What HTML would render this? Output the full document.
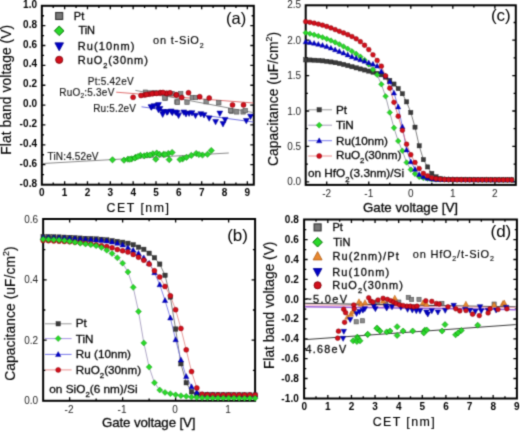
<!DOCTYPE html>
<html><head><meta charset="utf-8"><style>
html,body{margin:0;padding:0;background:#fff;}
svg{display:block;font-family:"Liberation Sans",Arial,sans-serif;}
text{stroke:#111;stroke-width:0.3px;}
text[font-weight=bold],text.n{stroke:none;}
text.m{stroke-width:0.15px;}
</style></head><body>
<svg width="520" height="432" viewBox="0 0 520 432">
<defs><filter id="soft" x="0" y="0" width="520" height="432" filterUnits="userSpaceOnUse" color-interpolation-filters="sRGB"><feConvolveMatrix order="3" kernelMatrix="1 4 1 4 16 4 1 4 1" divisor="36" edgeMode="duplicate"/></filter></defs>
<g filter="url(#soft)">
<rect width="520" height="432" fill="#fff"/>
<rect x="41.85" y="5.8" width="211.95" height="178.90" fill="none" stroke="#000" stroke-width="2"/>
<path d="M64.64 184.7v-3.5M64.64 5.8v3.5M87.48 184.7v-3.5M87.48 5.8v3.5M110.32 184.7v-3.5M110.32 5.8v3.5M133.16 184.7v-3.5M133.16 5.8v3.5M156.00 184.7v-3.5M156.00 5.8v3.5M178.84 184.7v-3.5M178.84 5.8v3.5M201.68 184.7v-3.5M201.68 5.8v3.5M224.52 184.7v-3.5M224.52 5.8v3.5M247.36 184.7v-3.5M247.36 5.8v3.5M53.22 184.7v-2.2M53.22 5.8v2.2M76.06 184.7v-2.2M76.06 5.8v2.2M98.90 184.7v-2.2M98.90 5.8v2.2M121.74 184.7v-2.2M121.74 5.8v2.2M144.58 184.7v-2.2M144.58 5.8v2.2M167.42 184.7v-2.2M167.42 5.8v2.2M190.26 184.7v-2.2M190.26 5.8v2.2M213.10 184.7v-2.2M213.10 5.8v2.2M235.94 184.7v-2.2M235.94 5.8v2.2M41.85 164.68h3.5M253.8 164.68h-3.5M41.85 144.82h3.5M253.8 144.82h-3.5M41.85 124.96h3.5M253.8 124.96h-3.5M41.85 105.10h3.5M253.8 105.10h-3.5M41.85 85.24h3.5M253.8 85.24h-3.5M41.85 65.38h3.5M253.8 65.38h-3.5M41.85 45.52h3.5M253.8 45.52h-3.5M41.85 25.66h3.5M253.8 25.66h-3.5M41.85 174.61h2.2M253.8 174.61h-2.2M41.85 154.75h2.2M253.8 154.75h-2.2M41.85 134.89h2.2M253.8 134.89h-2.2M41.85 115.03h2.2M253.8 115.03h-2.2M41.85 95.17h2.2M253.8 95.17h-2.2M41.85 75.31h2.2M253.8 75.31h-2.2M41.85 55.45h2.2M253.8 55.45h-2.2M41.85 35.59h2.2M253.8 35.59h-2.2M41.85 15.73h2.2M253.8 15.73h-2.2" stroke="#000" stroke-width="1.3" fill="none"/>
<text x="37.30" y="7.90" font-size="10" text-anchor="end" font-weight="bold" letter-spacing="0.15" fill="#000">1.0</text>
<text x="37.30" y="27.76" font-size="10" text-anchor="end" font-weight="bold" letter-spacing="0.15" fill="#000">0.8</text>
<text x="37.30" y="47.62" font-size="10" text-anchor="end" font-weight="bold" letter-spacing="0.15" fill="#000">0.6</text>
<text x="37.30" y="67.48" font-size="10" text-anchor="end" font-weight="bold" letter-spacing="0.15" fill="#000">0.4</text>
<text x="37.30" y="87.34" font-size="10" text-anchor="end" font-weight="bold" letter-spacing="0.15" fill="#000">0.2</text>
<text x="37.30" y="107.20" font-size="10" text-anchor="end" font-weight="bold" letter-spacing="0.15" fill="#000">0.0</text>
<text x="37.30" y="127.06" font-size="10" text-anchor="end" font-weight="bold" letter-spacing="0.15" fill="#000">-0.2</text>
<text x="37.30" y="146.92" font-size="10" text-anchor="end" font-weight="bold" letter-spacing="0.15" fill="#000">-0.4</text>
<text x="37.30" y="166.78" font-size="10" text-anchor="end" font-weight="bold" letter-spacing="0.15" fill="#000">-0.6</text>
<text x="37.30" y="186.64" font-size="10" text-anchor="end" font-weight="bold" letter-spacing="0.15" fill="#000">-0.8</text>
<text x="41.80" y="196.40" font-size="10" text-anchor="middle" font-weight="bold" fill="#000">0</text>
<text x="64.64" y="196.40" font-size="10" text-anchor="middle" font-weight="bold" fill="#000">1</text>
<text x="87.48" y="196.40" font-size="10" text-anchor="middle" font-weight="bold" fill="#000">2</text>
<text x="110.32" y="196.40" font-size="10" text-anchor="middle" font-weight="bold" fill="#000">3</text>
<text x="133.16" y="196.40" font-size="10" text-anchor="middle" font-weight="bold" fill="#000">4</text>
<text x="156.00" y="196.40" font-size="10" text-anchor="middle" font-weight="bold" fill="#000">5</text>
<text x="178.84" y="196.40" font-size="10" text-anchor="middle" font-weight="bold" fill="#000">6</text>
<text x="201.68" y="196.40" font-size="10" text-anchor="middle" font-weight="bold" fill="#000">7</text>
<text x="224.52" y="196.40" font-size="10" text-anchor="middle" font-weight="bold" fill="#000">8</text>
<text x="247.36" y="196.40" font-size="10" text-anchor="middle" font-weight="bold" fill="#000">9</text>
<text x="106.60" y="212.00" font-size="12.3" fill="#000" class="m" textLength="62.3" lengthAdjust="spacing">CET [nm]</text>
<text transform="translate(11.4,89.8) rotate(-90)" font-size="13.8" class="m" text-anchor="middle" textLength="130" lengthAdjust="spacing">Flat band voltage (V)</text>
<text x="236.20" y="23.50" font-size="16.5" text-anchor="middle" fill="#000" class="n">(a)</text>
<text x="153.1" y="44.4" font-size="11" class="m" textLength="50.5" lengthAdjust="spacing">on t-SiO<tspan font-size="7" dy="3.6">2</tspan></text>
<rect x="55.70" y="12.50" width="7.00" height="7.00" fill="#777" stroke="#333" stroke-width="1.1"/>
<path d="M59.20 26.00L64.00 30.80L59.20 35.60L54.40 30.80Z" fill="#2ad82a" stroke="#0a700a" stroke-width="1.0"/>
<path d="M59.20 50.81L63.50 42.86L54.90 42.86Z" fill="#0000c8" stroke="#00008a" stroke-width="0.8"/>
<circle cx="59.20" cy="59.80" r="3.60" fill="#d2101c" stroke="#7a0008" stroke-width="0.8"/>
<text x="73.80" y="19.70" font-size="11" fill="#000" textLength="10.6" lengthAdjust="spacing">Pt</text>
<text x="78.40" y="33.60" font-size="11" fill="#000" textLength="16.6" lengthAdjust="spacing">TiN</text>
<text x="77.80" y="49.60" font-size="11" fill="#000" textLength="56.6" lengthAdjust="spacing">Ru(10nm)</text>
<text x="77.8" y="63.6" font-size="11" textLength="70" lengthAdjust="spacing">RuO<tspan font-size="7.4" dy="4.2">2</tspan><tspan dy="-4.2">(30nm)</tspan></text>
<text x="87.80" y="84.50" font-size="10" fill="#1a1a1a" class="m" textLength="45.8" lengthAdjust="spacing">Pt:5.42eV</text>
<text x="59.3" y="95.5" font-size="10" fill="#1a1a1a" class="m" textLength="55" lengthAdjust="spacing">RuO<tspan font-size="6.5" dy="2.5">2</tspan><tspan dy="-2.5">:5.3eV</tspan></text>
<text x="93.20" y="112.30" font-size="10" fill="#1a1a1a" class="m" textLength="42.8" lengthAdjust="spacing">Ru:5.2eV</text>
<text x="47.60" y="159.80" font-size="10" fill="#1a1a1a" class="m" textLength="50.9" lengthAdjust="spacing">TiN:4.52eV</text>
<line x1="116.2" y1="92.2" x2="253.3" y2="103" stroke="#e07070" stroke-width="1"/>
<line x1="135.4" y1="90.4" x2="253.3" y2="112.6" stroke="#8a8a8a" stroke-width="1"/>
<line x1="141.5" y1="106.8" x2="253.3" y2="122" stroke="#7070e0" stroke-width="1"/>
<line x1="42.8" y1="163.5" x2="228.8" y2="153" stroke="#8a8a8a" stroke-width="1"/>
<rect x="143.20" y="90.00" width="4.40" height="4.40" fill="#8a8a8a" stroke="#505050" stroke-width="0.6"/>
<rect x="163.20" y="95.90" width="4.40" height="4.40" fill="#8a8a8a" stroke="#505050" stroke-width="0.6"/>
<rect x="174.70" y="99.70" width="4.40" height="4.40" fill="#8a8a8a" stroke="#505050" stroke-width="0.6"/>
<rect x="162.60" y="95.70" width="4.40" height="4.40" fill="#8a8a8a" stroke="#505050" stroke-width="0.6"/>
<rect x="166.80" y="91.50" width="4.40" height="4.40" fill="#8a8a8a" stroke="#505050" stroke-width="0.6"/>
<rect x="175.30" y="100.00" width="4.40" height="4.40" fill="#8a8a8a" stroke="#505050" stroke-width="0.6"/>
<rect x="178.50" y="91.50" width="4.40" height="4.40" fill="#8a8a8a" stroke="#505050" stroke-width="0.6"/>
<rect x="184.80" y="100.00" width="4.40" height="4.40" fill="#8a8a8a" stroke="#505050" stroke-width="0.6"/>
<rect x="190.10" y="95.30" width="4.40" height="4.40" fill="#8a8a8a" stroke="#505050" stroke-width="0.6"/>
<rect x="193.30" y="95.30" width="4.40" height="4.40" fill="#8a8a8a" stroke="#505050" stroke-width="0.6"/>
<rect x="203.90" y="99.50" width="4.40" height="4.40" fill="#8a8a8a" stroke="#505050" stroke-width="0.6"/>
<rect x="216.60" y="100.60" width="4.40" height="4.40" fill="#8a8a8a" stroke="#505050" stroke-width="0.6"/>
<rect x="229.20" y="109.10" width="4.40" height="4.40" fill="#8a8a8a" stroke="#505050" stroke-width="0.6"/>
<rect x="234.50" y="109.70" width="4.40" height="4.40" fill="#8a8a8a" stroke="#505050" stroke-width="0.6"/>
<rect x="240.90" y="109.70" width="4.40" height="4.40" fill="#8a8a8a" stroke="#505050" stroke-width="0.6"/>
<rect x="243.00" y="108.40" width="4.40" height="4.40" fill="#8a8a8a" stroke="#505050" stroke-width="0.6"/>
<rect x="147.80" y="90.80" width="4.40" height="4.40" fill="#8a8a8a" stroke="#505050" stroke-width="0.6"/>
<rect x="152.80" y="90.60" width="4.40" height="4.40" fill="#8a8a8a" stroke="#505050" stroke-width="0.6"/>
<rect x="169.80" y="91.30" width="4.40" height="4.40" fill="#8a8a8a" stroke="#505050" stroke-width="0.6"/>
<rect x="228.30" y="108.30" width="4.40" height="4.40" fill="#8a8a8a" stroke="#505050" stroke-width="0.6"/>
<circle cx="133.10" cy="97.30" r="2.50" fill="#d2101c" stroke="#7a0008" stroke-width="0.5"/>
<circle cx="144.60" cy="95.00" r="2.50" fill="#d2101c" stroke="#7a0008" stroke-width="0.5"/>
<circle cx="149.20" cy="94.20" r="2.50" fill="#d2101c" stroke="#7a0008" stroke-width="0.5"/>
<circle cx="153.10" cy="93.50" r="2.50" fill="#d2101c" stroke="#7a0008" stroke-width="0.5"/>
<circle cx="160.00" cy="92.70" r="2.50" fill="#d2101c" stroke="#7a0008" stroke-width="0.5"/>
<circle cx="166.20" cy="93.50" r="2.50" fill="#d2101c" stroke="#7a0008" stroke-width="0.5"/>
<circle cx="176.20" cy="94.70" r="2.50" fill="#d2101c" stroke="#7a0008" stroke-width="0.5"/>
<circle cx="152.10" cy="93.70" r="2.50" fill="#d2101c" stroke="#7a0008" stroke-width="0.5"/>
<circle cx="160.60" cy="92.80" r="2.50" fill="#d2101c" stroke="#7a0008" stroke-width="0.5"/>
<circle cx="166.90" cy="93.30" r="2.50" fill="#d2101c" stroke="#7a0008" stroke-width="0.5"/>
<circle cx="176.40" cy="95.00" r="2.50" fill="#d2101c" stroke="#7a0008" stroke-width="0.5"/>
<circle cx="181.70" cy="97.50" r="2.50" fill="#d2101c" stroke="#7a0008" stroke-width="0.5"/>
<circle cx="188.50" cy="92.80" r="2.50" fill="#d2101c" stroke="#7a0008" stroke-width="0.5"/>
<circle cx="199.70" cy="96.70" r="2.50" fill="#d2101c" stroke="#7a0008" stroke-width="0.5"/>
<circle cx="209.20" cy="98.10" r="2.50" fill="#d2101c" stroke="#7a0008" stroke-width="0.5"/>
<circle cx="232.50" cy="104.90" r="2.50" fill="#d2101c" stroke="#7a0008" stroke-width="0.5"/>
<circle cx="243.50" cy="104.90" r="2.50" fill="#d2101c" stroke="#7a0008" stroke-width="0.5"/>
<circle cx="141.00" cy="95.50" r="2.50" fill="#d2101c" stroke="#7a0008" stroke-width="0.5"/>
<circle cx="146.50" cy="94.50" r="2.50" fill="#d2101c" stroke="#7a0008" stroke-width="0.5"/>
<circle cx="156.50" cy="93.40" r="2.50" fill="#d2101c" stroke="#7a0008" stroke-width="0.5"/>
<circle cx="163.00" cy="92.50" r="2.50" fill="#d2101c" stroke="#7a0008" stroke-width="0.5"/>
<circle cx="170.00" cy="92.80" r="2.50" fill="#d2101c" stroke="#7a0008" stroke-width="0.5"/>
<path d="M151.50 110.34L154.40 104.98L148.60 104.98Z" fill="#0000c8" stroke="#00008a" stroke-width="0.5"/>
<path d="M157.70 108.84L160.60 103.48L154.80 103.48Z" fill="#0000c8" stroke="#00008a" stroke-width="0.5"/>
<path d="M160.00 111.84L162.90 106.48L157.10 106.48Z" fill="#0000c8" stroke="#00008a" stroke-width="0.5"/>
<path d="M163.10 114.95L166.00 109.58L160.20 109.58Z" fill="#0000c8" stroke="#00008a" stroke-width="0.5"/>
<path d="M167.70 114.95L170.60 109.58L164.80 109.58Z" fill="#0000c8" stroke="#00008a" stroke-width="0.5"/>
<path d="M172.30 115.75L175.20 110.38L169.40 110.38Z" fill="#0000c8" stroke="#00008a" stroke-width="0.5"/>
<path d="M176.90 115.75L179.80 110.38L174.00 110.38Z" fill="#0000c8" stroke="#00008a" stroke-width="0.5"/>
<path d="M151.10 110.05L154.00 104.68L148.20 104.68Z" fill="#0000c8" stroke="#00008a" stroke-width="0.5"/>
<path d="M158.50 107.95L161.40 102.58L155.60 102.58Z" fill="#0000c8" stroke="#00008a" stroke-width="0.5"/>
<path d="M158.50 112.84L161.40 107.48L155.60 107.48Z" fill="#0000c8" stroke="#00008a" stroke-width="0.5"/>
<path d="M162.70 117.45L165.60 112.08L159.80 112.08Z" fill="#0000c8" stroke="#00008a" stroke-width="0.5"/>
<path d="M166.90 115.34L169.80 109.98L164.00 109.98Z" fill="#0000c8" stroke="#00008a" stroke-width="0.5"/>
<path d="M171.20 114.34L174.10 108.98L168.30 108.98Z" fill="#0000c8" stroke="#00008a" stroke-width="0.5"/>
<path d="M175.40 115.34L178.30 109.98L172.50 109.98Z" fill="#0000c8" stroke="#00008a" stroke-width="0.5"/>
<path d="M178.60 118.55L181.50 113.18L175.70 113.18Z" fill="#0000c8" stroke="#00008a" stroke-width="0.5"/>
<path d="M183.80 115.34L186.70 109.98L180.90 109.98Z" fill="#0000c8" stroke="#00008a" stroke-width="0.5"/>
<path d="M189.10 116.45L192.00 111.08L186.20 111.08Z" fill="#0000c8" stroke="#00008a" stroke-width="0.5"/>
<path d="M195.50 118.55L198.40 113.18L192.60 113.18Z" fill="#0000c8" stroke="#00008a" stroke-width="0.5"/>
<path d="M200.80 117.05L203.70 111.68L197.90 111.68Z" fill="#0000c8" stroke="#00008a" stroke-width="0.5"/>
<path d="M209.20 121.25L212.10 115.88L206.30 115.88Z" fill="#0000c8" stroke="#00008a" stroke-width="0.5"/>
<path d="M215.60 124.84L218.50 119.48L212.70 119.48Z" fill="#0000c8" stroke="#00008a" stroke-width="0.5"/>
<path d="M219.80 116.45L222.70 111.08L216.90 111.08Z" fill="#0000c8" stroke="#00008a" stroke-width="0.5"/>
<path d="M223.00 126.95L225.90 121.58L220.10 121.58Z" fill="#0000c8" stroke="#00008a" stroke-width="0.5"/>
<path d="M225.10 122.75L228.00 117.38L222.20 117.38Z" fill="#0000c8" stroke="#00008a" stroke-width="0.5"/>
<path d="M246.30 123.84L249.20 118.48L243.40 118.48Z" fill="#0000c8" stroke="#00008a" stroke-width="0.5"/>
<path d="M250.50 119.55L253.40 114.18L247.60 114.18Z" fill="#0000c8" stroke="#00008a" stroke-width="0.5"/>
<path d="M186.00 117.05L188.90 111.68L183.10 111.68Z" fill="#0000c8" stroke="#00008a" stroke-width="0.5"/>
<path d="M192.00 116.05L194.90 110.68L189.10 110.68Z" fill="#0000c8" stroke="#00008a" stroke-width="0.5"/>
<path d="M204.00 118.05L206.90 112.68L201.10 112.68Z" fill="#0000c8" stroke="#00008a" stroke-width="0.5"/>
<path d="M154.00 109.05L156.90 103.68L151.10 103.68Z" fill="#0000c8" stroke="#00008a" stroke-width="0.5"/>
<path d="M112.50 156.70L115.60 159.80L112.50 162.90L109.40 159.80Z" fill="#2ad82a" stroke="#0b8a0b" stroke-width="0.6"/>
<path d="M124.00 157.10L127.10 160.20L124.00 163.30L120.90 160.20Z" fill="#2ad82a" stroke="#0b8a0b" stroke-width="0.6"/>
<path d="M127.90 156.10L131.00 159.20L127.90 162.30L124.80 159.20Z" fill="#2ad82a" stroke="#0b8a0b" stroke-width="0.6"/>
<path d="M131.70 155.70L134.80 158.80L131.70 161.90L128.60 158.80Z" fill="#2ad82a" stroke="#0b8a0b" stroke-width="0.6"/>
<path d="M135.60 154.20L138.70 157.30L135.60 160.40L132.50 157.30Z" fill="#2ad82a" stroke="#0b8a0b" stroke-width="0.6"/>
<path d="M140.40 152.30L143.50 155.40L140.40 158.50L137.30 155.40Z" fill="#2ad82a" stroke="#0b8a0b" stroke-width="0.6"/>
<path d="M144.20 152.70L147.30 155.80L144.20 158.90L141.10 155.80Z" fill="#2ad82a" stroke="#0b8a0b" stroke-width="0.6"/>
<path d="M147.10 151.90L150.20 155.00L147.10 158.10L144.00 155.00Z" fill="#2ad82a" stroke="#0b8a0b" stroke-width="0.6"/>
<path d="M152.90 150.70L156.00 153.80L152.90 156.90L149.80 153.80Z" fill="#2ad82a" stroke="#0b8a0b" stroke-width="0.6"/>
<path d="M156.70 150.00L159.80 153.10L156.70 156.20L153.60 153.10Z" fill="#2ad82a" stroke="#0b8a0b" stroke-width="0.6"/>
<path d="M159.60 151.30L162.70 154.40L159.60 157.50L156.50 154.40Z" fill="#2ad82a" stroke="#0b8a0b" stroke-width="0.6"/>
<path d="M155.80 156.10L158.90 159.20L155.80 162.30L152.70 159.20Z" fill="#2ad82a" stroke="#0b8a0b" stroke-width="0.6"/>
<path d="M163.50 151.30L166.60 154.40L163.50 157.50L160.40 154.40Z" fill="#2ad82a" stroke="#0b8a0b" stroke-width="0.6"/>
<path d="M168.30 150.40L171.40 153.50L168.30 156.60L165.20 153.50Z" fill="#2ad82a" stroke="#0b8a0b" stroke-width="0.6"/>
<path d="M172.10 149.40L175.20 152.50L172.10 155.60L169.00 152.50Z" fill="#2ad82a" stroke="#0b8a0b" stroke-width="0.6"/>
<path d="M169.20 156.50L172.30 159.60L169.20 162.70L166.10 159.60Z" fill="#2ad82a" stroke="#0b8a0b" stroke-width="0.6"/>
<path d="M182.70 155.70L185.80 158.80L182.70 161.90L179.60 158.80Z" fill="#2ad82a" stroke="#0b8a0b" stroke-width="0.6"/>
<path d="M186.50 154.20L189.60 157.30L186.50 160.40L183.40 157.30Z" fill="#2ad82a" stroke="#0b8a0b" stroke-width="0.6"/>
<path d="M191.30 152.30L194.40 155.40L191.30 158.50L188.20 155.40Z" fill="#2ad82a" stroke="#0b8a0b" stroke-width="0.6"/>
<path d="M196.20 150.40L199.30 153.50L196.20 156.60L193.10 153.50Z" fill="#2ad82a" stroke="#0b8a0b" stroke-width="0.6"/>
<path d="M202.50 151.90L205.60 155.00L202.50 158.10L199.40 155.00Z" fill="#2ad82a" stroke="#0b8a0b" stroke-width="0.6"/>
<path d="M207.50 151.15L210.60 154.25L207.50 157.35L204.40 154.25Z" fill="#2ad82a" stroke="#0b8a0b" stroke-width="0.6"/>
<path d="M211.25 147.40L214.35 150.50L211.25 153.60L208.15 150.50Z" fill="#2ad82a" stroke="#0b8a0b" stroke-width="0.6"/>
<path d="M130.00 156.15L133.10 159.25L130.00 162.35L126.90 159.25Z" fill="#2ad82a" stroke="#0b8a0b" stroke-width="0.6"/>
<path d="M135.00 154.90L138.10 158.00L135.00 161.10L131.90 158.00Z" fill="#2ad82a" stroke="#0b8a0b" stroke-width="0.6"/>
<path d="M150.00 151.90L153.10 155.00L150.00 158.10L146.90 155.00Z" fill="#2ad82a" stroke="#0b8a0b" stroke-width="0.6"/>
<path d="M165.00 151.40L168.10 154.50L165.00 157.60L161.90 154.50Z" fill="#2ad82a" stroke="#0b8a0b" stroke-width="0.6"/>
<path d="M180.00 156.40L183.10 159.50L180.00 162.60L176.90 159.50Z" fill="#2ad82a" stroke="#0b8a0b" stroke-width="0.6"/>
<path d="M199.00 151.40L202.10 154.50L199.00 157.60L195.90 154.50Z" fill="#2ad82a" stroke="#0b8a0b" stroke-width="0.6"/>
<path d="M138.00 153.40L141.10 156.50L138.00 159.60L134.90 156.50Z" fill="#2ad82a" stroke="#0b8a0b" stroke-width="0.6"/>
<rect x="305.7" y="5.3" width="210.10" height="179.60" fill="none" stroke="#000" stroke-width="2"/>
<path d="M326.72 184.9v-3.5M326.72 5.3v3.5M368.76 184.9v-3.5M368.76 5.3v3.5M410.80 184.9v-3.5M410.80 5.3v3.5M452.84 184.9v-3.5M452.84 5.3v3.5M494.88 184.9v-3.5M494.88 5.3v3.5M347.74 184.9v-2.2M347.74 5.3v2.2M389.78 184.9v-2.2M389.78 5.3v2.2M431.82 184.9v-2.2M431.82 5.3v2.2M473.86 184.9v-2.2M473.86 5.3v2.2M305.7 181.80h3.5M515.8 181.80h-3.5M305.7 146.40h3.5M515.8 146.40h-3.5M305.7 111.00h3.5M515.8 111.00h-3.5M305.7 75.60h3.5M515.8 75.60h-3.5M305.7 40.20h3.5M515.8 40.20h-3.5M305.7 164.10h2.2M515.8 164.10h-2.2M305.7 128.70h2.2M515.8 128.70h-2.2M305.7 93.30h2.2M515.8 93.30h-2.2M305.7 57.90h2.2M515.8 57.90h-2.2M305.7 22.50h2.2M515.8 22.50h-2.2" stroke="#000" stroke-width="1.3" fill="none"/>
<text x="301.10" y="185.30" font-size="10" text-anchor="end" fill="#1e1e1e" class="n">0.0</text>
<text x="301.10" y="149.90" font-size="10" text-anchor="end" fill="#1e1e1e" class="n">0.5</text>
<text x="301.10" y="114.50" font-size="10" text-anchor="end" fill="#1e1e1e" class="n">1.0</text>
<text x="301.10" y="79.10" font-size="10" text-anchor="end" fill="#1e1e1e" class="n">1.5</text>
<text x="301.10" y="43.70" font-size="10" text-anchor="end" fill="#1e1e1e" class="n">2.0</text>
<text x="301.10" y="8.30" font-size="10" text-anchor="end" fill="#1e1e1e" class="n">2.5</text>
<text x="326.72" y="197.40" font-size="10" text-anchor="middle" fill="#1e1e1e" class="n">-2</text>
<text x="368.76" y="197.40" font-size="10" text-anchor="middle" fill="#1e1e1e" class="n">-1</text>
<text x="410.80" y="197.40" font-size="10" text-anchor="middle" fill="#1e1e1e" class="n">0</text>
<text x="452.84" y="197.40" font-size="10" text-anchor="middle" fill="#1e1e1e" class="n">1</text>
<text x="494.88" y="197.40" font-size="10" text-anchor="middle" fill="#1e1e1e" class="n">2</text>
<text x="363.00" y="212.00" font-size="13.3" fill="#000" textLength="95" lengthAdjust="spacing">Gate voltage [V]</text>
<text transform="translate(278.2,98.9) rotate(-90)" font-size="13.8" class="m" text-anchor="middle" textLength="134" lengthAdjust="spacing">Capacitance (uF/cm<tspan font-size="8.8" dy="-6.3">2</tspan><tspan dy="6.3">)</tspan></text>
<text x="500.80" y="21.20" font-size="17" text-anchor="middle" fill="#000" class="n">(c)</text>
<polyline points="305.70,59.88 309.90,59.99 314.11,60.22 318.31,60.52 322.52,60.87 326.72,61.33 330.92,61.95 335.13,62.69 339.33,63.49 343.54,64.44 347.74,65.55 351.94,66.74 356.15,67.88 360.35,68.95 364.56,69.99 368.76,71.06 372.96,72.20 377.17,73.36 381.37,74.82 385.58,77.16 389.78,80.36 393.98,84.03 398.19,88.56 402.39,93.72 406.60,101.87 410.80,112.49 415.00,127.14 419.21,145.83 423.41,159.64 427.62,166.93 431.82,173.45 436.02,176.84 440.23,178.61 444.43,179.21 448.64,179.46 452.84,179.53 457.04,179.58 461.25,179.63 465.45,179.68 469.66,179.72 473.86,179.75 478.06,179.78 482.27,179.81 486.47,179.83 490.68,179.85 494.88,179.86 499.08,179.87 503.29,179.88 507.49,179.88 511.70,179.89" fill="none" stroke="#606060" stroke-width="0.8"/>
<polyline points="305.70,32.77 309.90,33.71 314.11,34.80 318.31,36.03 322.52,37.37 326.72,38.85 330.92,40.53 335.13,42.35 339.33,44.31 343.54,46.44 347.74,48.80 351.94,51.32 356.15,53.89 360.35,56.66 364.56,59.95 368.76,64.42 372.96,69.58 377.17,74.82 381.37,84.31 385.58,96.27 389.78,112.49 393.98,127.85 398.19,141.02 402.39,150.72 406.60,162.47 410.80,169.62 415.00,173.87 419.21,176.84 423.41,177.95 427.62,178.61 431.82,179.17 436.02,179.46 440.23,179.52 444.43,179.57 448.64,179.61 452.84,179.65 457.04,179.69 461.25,179.72 465.45,179.75 469.66,179.78 473.86,179.80 478.06,179.82 482.27,179.84 486.47,179.85 490.68,179.86 494.88,179.87 499.08,179.88 503.29,179.88 507.49,179.89 511.70,179.89" fill="none" stroke="#8a8a9a" stroke-width="0.8"/>
<polyline points="305.70,41.76 309.90,42.40 314.11,43.21 318.31,44.16 322.52,45.23 326.72,46.50 330.92,48.01 335.13,49.66 339.33,51.32 343.54,53.02 347.74,54.81 351.94,56.58 356.15,58.25 360.35,59.74 364.56,61.15 368.76,62.64 372.96,64.05 377.17,66.04 381.37,71.42 385.58,76.00 389.78,81.62 393.98,92.95 398.19,106.82 402.39,126.65 406.60,149.94 410.80,161.76 415.00,169.13 419.21,174.37 423.41,176.77 427.62,178.26 431.82,178.98 436.02,179.32 440.23,179.39 444.43,179.46 448.64,179.52 452.84,179.57 457.04,179.62 461.25,179.66 465.45,179.70 469.66,179.74 473.86,179.77 478.06,179.79 482.27,179.82 486.47,179.84 490.68,179.85 494.88,179.86 499.08,179.87 503.29,179.88 507.49,179.88 511.70,179.89" fill="none" stroke="#5a5ae0" stroke-width="0.8"/>
<polyline points="305.70,21.65 309.90,22.31 314.11,23.14 318.31,24.11 322.52,25.19 326.72,26.46 330.92,27.95 335.13,29.59 339.33,31.28 343.54,32.94 347.74,34.65 351.94,36.55 356.15,38.78 360.35,41.68 364.56,45.23 368.76,49.55 372.96,54.79 377.17,60.45 381.37,66.18 385.58,75.88 389.78,88.13 393.98,102.29 398.19,116.24 402.39,130.33 406.60,144.21 410.80,154.75 415.00,162.47 419.21,168.56 423.41,173.45 427.62,175.92 431.82,177.84 436.02,178.76 440.23,179.18 444.43,179.50 448.64,179.68 452.84,179.71 457.04,179.74 461.25,179.76 465.45,179.78 469.66,179.80 473.86,179.82 478.06,179.84 482.27,179.85 486.47,179.86 490.68,179.87 494.88,179.87 499.08,179.88 503.29,179.88 507.49,179.89 511.70,179.89" fill="none" stroke="#e07070" stroke-width="0.8"/>
<rect x="303.60" y="57.78" width="4.20" height="4.20" fill="#3a3a3a" stroke="#202020" stroke-width="0.4"/>
<rect x="307.80" y="57.89" width="4.20" height="4.20" fill="#3a3a3a" stroke="#202020" stroke-width="0.4"/>
<rect x="312.01" y="58.12" width="4.20" height="4.20" fill="#3a3a3a" stroke="#202020" stroke-width="0.4"/>
<rect x="316.21" y="58.42" width="4.20" height="4.20" fill="#3a3a3a" stroke="#202020" stroke-width="0.4"/>
<rect x="320.42" y="58.77" width="4.20" height="4.20" fill="#3a3a3a" stroke="#202020" stroke-width="0.4"/>
<rect x="324.62" y="59.23" width="4.20" height="4.20" fill="#3a3a3a" stroke="#202020" stroke-width="0.4"/>
<rect x="328.82" y="59.85" width="4.20" height="4.20" fill="#3a3a3a" stroke="#202020" stroke-width="0.4"/>
<rect x="333.03" y="60.59" width="4.20" height="4.20" fill="#3a3a3a" stroke="#202020" stroke-width="0.4"/>
<rect x="337.23" y="61.39" width="4.20" height="4.20" fill="#3a3a3a" stroke="#202020" stroke-width="0.4"/>
<rect x="341.44" y="62.34" width="4.20" height="4.20" fill="#3a3a3a" stroke="#202020" stroke-width="0.4"/>
<rect x="345.64" y="63.45" width="4.20" height="4.20" fill="#3a3a3a" stroke="#202020" stroke-width="0.4"/>
<rect x="349.84" y="64.64" width="4.20" height="4.20" fill="#3a3a3a" stroke="#202020" stroke-width="0.4"/>
<rect x="354.05" y="65.78" width="4.20" height="4.20" fill="#3a3a3a" stroke="#202020" stroke-width="0.4"/>
<rect x="358.25" y="66.85" width="4.20" height="4.20" fill="#3a3a3a" stroke="#202020" stroke-width="0.4"/>
<rect x="362.46" y="67.89" width="4.20" height="4.20" fill="#3a3a3a" stroke="#202020" stroke-width="0.4"/>
<rect x="366.66" y="68.96" width="4.20" height="4.20" fill="#3a3a3a" stroke="#202020" stroke-width="0.4"/>
<rect x="370.86" y="70.10" width="4.20" height="4.20" fill="#3a3a3a" stroke="#202020" stroke-width="0.4"/>
<rect x="375.07" y="71.26" width="4.20" height="4.20" fill="#3a3a3a" stroke="#202020" stroke-width="0.4"/>
<rect x="379.27" y="72.72" width="4.20" height="4.20" fill="#3a3a3a" stroke="#202020" stroke-width="0.4"/>
<rect x="383.48" y="75.06" width="4.20" height="4.20" fill="#3a3a3a" stroke="#202020" stroke-width="0.4"/>
<rect x="387.68" y="78.26" width="4.20" height="4.20" fill="#3a3a3a" stroke="#202020" stroke-width="0.4"/>
<rect x="391.88" y="81.93" width="4.20" height="4.20" fill="#3a3a3a" stroke="#202020" stroke-width="0.4"/>
<rect x="396.09" y="86.46" width="4.20" height="4.20" fill="#3a3a3a" stroke="#202020" stroke-width="0.4"/>
<rect x="400.29" y="91.62" width="4.20" height="4.20" fill="#3a3a3a" stroke="#202020" stroke-width="0.4"/>
<rect x="404.50" y="99.77" width="4.20" height="4.20" fill="#3a3a3a" stroke="#202020" stroke-width="0.4"/>
<rect x="408.70" y="110.39" width="4.20" height="4.20" fill="#3a3a3a" stroke="#202020" stroke-width="0.4"/>
<rect x="412.90" y="125.04" width="4.20" height="4.20" fill="#3a3a3a" stroke="#202020" stroke-width="0.4"/>
<rect x="417.11" y="143.73" width="4.20" height="4.20" fill="#3a3a3a" stroke="#202020" stroke-width="0.4"/>
<rect x="421.31" y="157.54" width="4.20" height="4.20" fill="#3a3a3a" stroke="#202020" stroke-width="0.4"/>
<rect x="425.52" y="164.83" width="4.20" height="4.20" fill="#3a3a3a" stroke="#202020" stroke-width="0.4"/>
<rect x="429.72" y="171.35" width="4.20" height="4.20" fill="#3a3a3a" stroke="#202020" stroke-width="0.4"/>
<rect x="433.92" y="174.74" width="4.20" height="4.20" fill="#3a3a3a" stroke="#202020" stroke-width="0.4"/>
<rect x="438.13" y="176.51" width="4.20" height="4.20" fill="#3a3a3a" stroke="#202020" stroke-width="0.4"/>
<rect x="442.33" y="177.11" width="4.20" height="4.20" fill="#3a3a3a" stroke="#202020" stroke-width="0.4"/>
<rect x="446.54" y="177.36" width="4.20" height="4.20" fill="#3a3a3a" stroke="#202020" stroke-width="0.4"/>
<rect x="450.74" y="177.43" width="4.20" height="4.20" fill="#3a3a3a" stroke="#202020" stroke-width="0.4"/>
<rect x="454.94" y="177.48" width="4.20" height="4.20" fill="#3a3a3a" stroke="#202020" stroke-width="0.4"/>
<rect x="459.15" y="177.53" width="4.20" height="4.20" fill="#3a3a3a" stroke="#202020" stroke-width="0.4"/>
<rect x="463.35" y="177.58" width="4.20" height="4.20" fill="#3a3a3a" stroke="#202020" stroke-width="0.4"/>
<rect x="467.56" y="177.62" width="4.20" height="4.20" fill="#3a3a3a" stroke="#202020" stroke-width="0.4"/>
<rect x="471.76" y="177.65" width="4.20" height="4.20" fill="#3a3a3a" stroke="#202020" stroke-width="0.4"/>
<rect x="475.96" y="177.68" width="4.20" height="4.20" fill="#3a3a3a" stroke="#202020" stroke-width="0.4"/>
<rect x="480.17" y="177.71" width="4.20" height="4.20" fill="#3a3a3a" stroke="#202020" stroke-width="0.4"/>
<rect x="484.37" y="177.73" width="4.20" height="4.20" fill="#3a3a3a" stroke="#202020" stroke-width="0.4"/>
<rect x="488.58" y="177.75" width="4.20" height="4.20" fill="#3a3a3a" stroke="#202020" stroke-width="0.4"/>
<rect x="492.78" y="177.76" width="4.20" height="4.20" fill="#3a3a3a" stroke="#202020" stroke-width="0.4"/>
<rect x="496.98" y="177.77" width="4.20" height="4.20" fill="#3a3a3a" stroke="#202020" stroke-width="0.4"/>
<rect x="501.19" y="177.78" width="4.20" height="4.20" fill="#3a3a3a" stroke="#202020" stroke-width="0.4"/>
<rect x="505.39" y="177.78" width="4.20" height="4.20" fill="#3a3a3a" stroke="#202020" stroke-width="0.4"/>
<rect x="509.60" y="177.79" width="4.20" height="4.20" fill="#3a3a3a" stroke="#202020" stroke-width="0.4"/>
<path d="M305.70 29.97L308.50 32.77L305.70 35.57L302.90 32.77Z" fill="#2ad82a" stroke="#0b8a0b" stroke-width="0.4"/>
<path d="M309.90 30.91L312.70 33.71L309.90 36.51L307.10 33.71Z" fill="#2ad82a" stroke="#0b8a0b" stroke-width="0.4"/>
<path d="M314.11 32.00L316.91 34.80L314.11 37.60L311.31 34.80Z" fill="#2ad82a" stroke="#0b8a0b" stroke-width="0.4"/>
<path d="M318.31 33.23L321.11 36.03L318.31 38.83L315.51 36.03Z" fill="#2ad82a" stroke="#0b8a0b" stroke-width="0.4"/>
<path d="M322.52 34.57L325.32 37.37L322.52 40.17L319.72 37.37Z" fill="#2ad82a" stroke="#0b8a0b" stroke-width="0.4"/>
<path d="M326.72 36.05L329.52 38.85L326.72 41.65L323.92 38.85Z" fill="#2ad82a" stroke="#0b8a0b" stroke-width="0.4"/>
<path d="M330.92 37.73L333.72 40.53L330.92 43.33L328.12 40.53Z" fill="#2ad82a" stroke="#0b8a0b" stroke-width="0.4"/>
<path d="M335.13 39.55L337.93 42.35L335.13 45.15L332.33 42.35Z" fill="#2ad82a" stroke="#0b8a0b" stroke-width="0.4"/>
<path d="M339.33 41.51L342.13 44.31L339.33 47.11L336.53 44.31Z" fill="#2ad82a" stroke="#0b8a0b" stroke-width="0.4"/>
<path d="M343.54 43.64L346.34 46.44L343.54 49.24L340.74 46.44Z" fill="#2ad82a" stroke="#0b8a0b" stroke-width="0.4"/>
<path d="M347.74 46.00L350.54 48.80L347.74 51.60L344.94 48.80Z" fill="#2ad82a" stroke="#0b8a0b" stroke-width="0.4"/>
<path d="M351.94 48.52L354.74 51.32L351.94 54.12L349.14 51.32Z" fill="#2ad82a" stroke="#0b8a0b" stroke-width="0.4"/>
<path d="M356.15 51.09L358.95 53.89L356.15 56.69L353.35 53.89Z" fill="#2ad82a" stroke="#0b8a0b" stroke-width="0.4"/>
<path d="M360.35 53.86L363.15 56.66L360.35 59.46L357.55 56.66Z" fill="#2ad82a" stroke="#0b8a0b" stroke-width="0.4"/>
<path d="M364.56 57.15L367.36 59.95L364.56 62.75L361.76 59.95Z" fill="#2ad82a" stroke="#0b8a0b" stroke-width="0.4"/>
<path d="M368.76 61.62L371.56 64.42L368.76 67.22L365.96 64.42Z" fill="#2ad82a" stroke="#0b8a0b" stroke-width="0.4"/>
<path d="M372.96 66.78L375.76 69.58L372.96 72.38L370.16 69.58Z" fill="#2ad82a" stroke="#0b8a0b" stroke-width="0.4"/>
<path d="M377.17 72.02L379.97 74.82L377.17 77.62L374.37 74.82Z" fill="#2ad82a" stroke="#0b8a0b" stroke-width="0.4"/>
<path d="M381.37 81.51L384.17 84.31L381.37 87.11L378.57 84.31Z" fill="#2ad82a" stroke="#0b8a0b" stroke-width="0.4"/>
<path d="M385.58 93.47L388.38 96.27L385.58 99.07L382.78 96.27Z" fill="#2ad82a" stroke="#0b8a0b" stroke-width="0.4"/>
<path d="M389.78 109.69L392.58 112.49L389.78 115.29L386.98 112.49Z" fill="#2ad82a" stroke="#0b8a0b" stroke-width="0.4"/>
<path d="M393.98 125.05L396.78 127.85L393.98 130.65L391.18 127.85Z" fill="#2ad82a" stroke="#0b8a0b" stroke-width="0.4"/>
<path d="M398.19 138.22L400.99 141.02L398.19 143.82L395.39 141.02Z" fill="#2ad82a" stroke="#0b8a0b" stroke-width="0.4"/>
<path d="M402.39 147.92L405.19 150.72L402.39 153.52L399.59 150.72Z" fill="#2ad82a" stroke="#0b8a0b" stroke-width="0.4"/>
<path d="M406.60 159.67L409.40 162.47L406.60 165.27L403.80 162.47Z" fill="#2ad82a" stroke="#0b8a0b" stroke-width="0.4"/>
<path d="M410.80 166.82L413.60 169.62L410.80 172.42L408.00 169.62Z" fill="#2ad82a" stroke="#0b8a0b" stroke-width="0.4"/>
<path d="M415.00 171.07L417.80 173.87L415.00 176.67L412.20 173.87Z" fill="#2ad82a" stroke="#0b8a0b" stroke-width="0.4"/>
<path d="M419.21 174.04L422.01 176.84L419.21 179.64L416.41 176.84Z" fill="#2ad82a" stroke="#0b8a0b" stroke-width="0.4"/>
<path d="M423.41 175.15L426.21 177.95L423.41 180.75L420.61 177.95Z" fill="#2ad82a" stroke="#0b8a0b" stroke-width="0.4"/>
<path d="M427.62 175.81L430.42 178.61L427.62 181.41L424.82 178.61Z" fill="#2ad82a" stroke="#0b8a0b" stroke-width="0.4"/>
<path d="M431.82 176.37L434.62 179.17L431.82 181.97L429.02 179.17Z" fill="#2ad82a" stroke="#0b8a0b" stroke-width="0.4"/>
<path d="M436.02 176.66L438.82 179.46L436.02 182.26L433.22 179.46Z" fill="#2ad82a" stroke="#0b8a0b" stroke-width="0.4"/>
<path d="M440.23 176.72L443.03 179.52L440.23 182.32L437.43 179.52Z" fill="#2ad82a" stroke="#0b8a0b" stroke-width="0.4"/>
<path d="M444.43 176.77L447.23 179.57L444.43 182.37L441.63 179.57Z" fill="#2ad82a" stroke="#0b8a0b" stroke-width="0.4"/>
<path d="M448.64 176.81L451.44 179.61L448.64 182.41L445.84 179.61Z" fill="#2ad82a" stroke="#0b8a0b" stroke-width="0.4"/>
<path d="M452.84 176.85L455.64 179.65L452.84 182.45L450.04 179.65Z" fill="#2ad82a" stroke="#0b8a0b" stroke-width="0.4"/>
<path d="M457.04 176.89L459.84 179.69L457.04 182.49L454.24 179.69Z" fill="#2ad82a" stroke="#0b8a0b" stroke-width="0.4"/>
<path d="M461.25 176.92L464.05 179.72L461.25 182.52L458.45 179.72Z" fill="#2ad82a" stroke="#0b8a0b" stroke-width="0.4"/>
<path d="M465.45 176.95L468.25 179.75L465.45 182.55L462.65 179.75Z" fill="#2ad82a" stroke="#0b8a0b" stroke-width="0.4"/>
<path d="M469.66 176.98L472.46 179.78L469.66 182.58L466.86 179.78Z" fill="#2ad82a" stroke="#0b8a0b" stroke-width="0.4"/>
<path d="M473.86 177.00L476.66 179.80L473.86 182.60L471.06 179.80Z" fill="#2ad82a" stroke="#0b8a0b" stroke-width="0.4"/>
<path d="M478.06 177.02L480.86 179.82L478.06 182.62L475.26 179.82Z" fill="#2ad82a" stroke="#0b8a0b" stroke-width="0.4"/>
<path d="M482.27 177.04L485.07 179.84L482.27 182.64L479.47 179.84Z" fill="#2ad82a" stroke="#0b8a0b" stroke-width="0.4"/>
<path d="M486.47 177.05L489.27 179.85L486.47 182.65L483.67 179.85Z" fill="#2ad82a" stroke="#0b8a0b" stroke-width="0.4"/>
<path d="M490.68 177.06L493.48 179.86L490.68 182.66L487.88 179.86Z" fill="#2ad82a" stroke="#0b8a0b" stroke-width="0.4"/>
<path d="M494.88 177.07L497.68 179.87L494.88 182.67L492.08 179.87Z" fill="#2ad82a" stroke="#0b8a0b" stroke-width="0.4"/>
<path d="M499.08 177.08L501.88 179.88L499.08 182.68L496.28 179.88Z" fill="#2ad82a" stroke="#0b8a0b" stroke-width="0.4"/>
<path d="M503.29 177.08L506.09 179.88L503.29 182.68L500.49 179.88Z" fill="#2ad82a" stroke="#0b8a0b" stroke-width="0.4"/>
<path d="M507.49 177.09L510.29 179.89L507.49 182.69L504.69 179.89Z" fill="#2ad82a" stroke="#0b8a0b" stroke-width="0.4"/>
<path d="M511.70 177.09L514.50 179.89L511.70 182.69L508.90 179.89Z" fill="#2ad82a" stroke="#0b8a0b" stroke-width="0.4"/>
<path d="M305.70 39.03L308.30 43.84L303.10 43.84Z" fill="#0000c8" stroke="#00008a" stroke-width="0.4"/>
<path d="M309.90 39.67L312.50 44.48L307.30 44.48Z" fill="#0000c8" stroke="#00008a" stroke-width="0.4"/>
<path d="M314.11 40.48L316.71 45.29L311.51 45.29Z" fill="#0000c8" stroke="#00008a" stroke-width="0.4"/>
<path d="M318.31 41.43L320.91 46.24L315.71 46.24Z" fill="#0000c8" stroke="#00008a" stroke-width="0.4"/>
<path d="M322.52 42.50L325.12 47.31L319.92 47.31Z" fill="#0000c8" stroke="#00008a" stroke-width="0.4"/>
<path d="M326.72 43.77L329.32 48.58L324.12 48.58Z" fill="#0000c8" stroke="#00008a" stroke-width="0.4"/>
<path d="M330.92 45.28L333.52 50.09L328.32 50.09Z" fill="#0000c8" stroke="#00008a" stroke-width="0.4"/>
<path d="M335.13 46.93L337.73 51.74L332.53 51.74Z" fill="#0000c8" stroke="#00008a" stroke-width="0.4"/>
<path d="M339.33 48.59L341.93 53.40L336.73 53.40Z" fill="#0000c8" stroke="#00008a" stroke-width="0.4"/>
<path d="M343.54 50.29L346.14 55.10L340.94 55.10Z" fill="#0000c8" stroke="#00008a" stroke-width="0.4"/>
<path d="M347.74 52.08L350.34 56.89L345.14 56.89Z" fill="#0000c8" stroke="#00008a" stroke-width="0.4"/>
<path d="M351.94 53.85L354.54 58.66L349.34 58.66Z" fill="#0000c8" stroke="#00008a" stroke-width="0.4"/>
<path d="M356.15 55.52L358.75 60.33L353.55 60.33Z" fill="#0000c8" stroke="#00008a" stroke-width="0.4"/>
<path d="M360.35 57.01L362.95 61.82L357.75 61.82Z" fill="#0000c8" stroke="#00008a" stroke-width="0.4"/>
<path d="M364.56 58.42L367.16 63.23L361.96 63.23Z" fill="#0000c8" stroke="#00008a" stroke-width="0.4"/>
<path d="M368.76 59.91L371.36 64.72L366.16 64.72Z" fill="#0000c8" stroke="#00008a" stroke-width="0.4"/>
<path d="M372.96 61.32L375.56 66.13L370.36 66.13Z" fill="#0000c8" stroke="#00008a" stroke-width="0.4"/>
<path d="M377.17 63.31L379.77 68.12L374.57 68.12Z" fill="#0000c8" stroke="#00008a" stroke-width="0.4"/>
<path d="M381.37 68.69L383.97 73.50L378.77 73.50Z" fill="#0000c8" stroke="#00008a" stroke-width="0.4"/>
<path d="M385.58 73.27L388.18 78.08L382.98 78.08Z" fill="#0000c8" stroke="#00008a" stroke-width="0.4"/>
<path d="M389.78 78.89L392.38 83.70L387.18 83.70Z" fill="#0000c8" stroke="#00008a" stroke-width="0.4"/>
<path d="M393.98 90.22L396.58 95.03L391.38 95.03Z" fill="#0000c8" stroke="#00008a" stroke-width="0.4"/>
<path d="M398.19 104.09L400.79 108.90L395.59 108.90Z" fill="#0000c8" stroke="#00008a" stroke-width="0.4"/>
<path d="M402.39 123.92L404.99 128.73L399.79 128.73Z" fill="#0000c8" stroke="#00008a" stroke-width="0.4"/>
<path d="M406.60 147.21L409.20 152.02L404.00 152.02Z" fill="#0000c8" stroke="#00008a" stroke-width="0.4"/>
<path d="M410.80 159.03L413.40 163.84L408.20 163.84Z" fill="#0000c8" stroke="#00008a" stroke-width="0.4"/>
<path d="M415.00 166.40L417.60 171.21L412.40 171.21Z" fill="#0000c8" stroke="#00008a" stroke-width="0.4"/>
<path d="M419.21 171.64L421.81 176.45L416.61 176.45Z" fill="#0000c8" stroke="#00008a" stroke-width="0.4"/>
<path d="M423.41 174.04L426.01 178.85L420.81 178.85Z" fill="#0000c8" stroke="#00008a" stroke-width="0.4"/>
<path d="M427.62 175.53L430.22 180.34L425.02 180.34Z" fill="#0000c8" stroke="#00008a" stroke-width="0.4"/>
<path d="M431.82 176.25L434.42 181.06L429.22 181.06Z" fill="#0000c8" stroke="#00008a" stroke-width="0.4"/>
<path d="M436.02 176.59L438.62 181.40L433.42 181.40Z" fill="#0000c8" stroke="#00008a" stroke-width="0.4"/>
<path d="M440.23 176.66L442.83 181.47L437.63 181.47Z" fill="#0000c8" stroke="#00008a" stroke-width="0.4"/>
<path d="M444.43 176.73L447.03 181.54L441.83 181.54Z" fill="#0000c8" stroke="#00008a" stroke-width="0.4"/>
<path d="M448.64 176.79L451.24 181.60L446.04 181.60Z" fill="#0000c8" stroke="#00008a" stroke-width="0.4"/>
<path d="M452.84 176.84L455.44 181.65L450.24 181.65Z" fill="#0000c8" stroke="#00008a" stroke-width="0.4"/>
<path d="M457.04 176.89L459.64 181.70L454.44 181.70Z" fill="#0000c8" stroke="#00008a" stroke-width="0.4"/>
<path d="M461.25 176.93L463.85 181.74L458.65 181.74Z" fill="#0000c8" stroke="#00008a" stroke-width="0.4"/>
<path d="M465.45 176.97L468.05 181.78L462.85 181.78Z" fill="#0000c8" stroke="#00008a" stroke-width="0.4"/>
<path d="M469.66 177.01L472.26 181.82L467.06 181.82Z" fill="#0000c8" stroke="#00008a" stroke-width="0.4"/>
<path d="M473.86 177.04L476.46 181.85L471.26 181.85Z" fill="#0000c8" stroke="#00008a" stroke-width="0.4"/>
<path d="M478.06 177.06L480.66 181.87L475.46 181.87Z" fill="#0000c8" stroke="#00008a" stroke-width="0.4"/>
<path d="M482.27 177.09L484.87 181.90L479.67 181.90Z" fill="#0000c8" stroke="#00008a" stroke-width="0.4"/>
<path d="M486.47 177.11L489.07 181.92L483.87 181.92Z" fill="#0000c8" stroke="#00008a" stroke-width="0.4"/>
<path d="M490.68 177.12L493.28 181.93L488.08 181.93Z" fill="#0000c8" stroke="#00008a" stroke-width="0.4"/>
<path d="M494.88 177.13L497.48 181.94L492.28 181.94Z" fill="#0000c8" stroke="#00008a" stroke-width="0.4"/>
<path d="M499.08 177.14L501.68 181.95L496.48 181.95Z" fill="#0000c8" stroke="#00008a" stroke-width="0.4"/>
<path d="M503.29 177.15L505.89 181.96L500.69 181.96Z" fill="#0000c8" stroke="#00008a" stroke-width="0.4"/>
<path d="M507.49 177.15L510.09 181.96L504.89 181.96Z" fill="#0000c8" stroke="#00008a" stroke-width="0.4"/>
<path d="M511.70 177.16L514.30 181.97L509.10 181.97Z" fill="#0000c8" stroke="#00008a" stroke-width="0.4"/>
<circle cx="305.70" cy="21.65" r="2.40" fill="#d2101c" stroke="#7a0008" stroke-width="0.4"/>
<circle cx="309.90" cy="22.31" r="2.40" fill="#d2101c" stroke="#7a0008" stroke-width="0.4"/>
<circle cx="314.11" cy="23.14" r="2.40" fill="#d2101c" stroke="#7a0008" stroke-width="0.4"/>
<circle cx="318.31" cy="24.11" r="2.40" fill="#d2101c" stroke="#7a0008" stroke-width="0.4"/>
<circle cx="322.52" cy="25.19" r="2.40" fill="#d2101c" stroke="#7a0008" stroke-width="0.4"/>
<circle cx="326.72" cy="26.46" r="2.40" fill="#d2101c" stroke="#7a0008" stroke-width="0.4"/>
<circle cx="330.92" cy="27.95" r="2.40" fill="#d2101c" stroke="#7a0008" stroke-width="0.4"/>
<circle cx="335.13" cy="29.59" r="2.40" fill="#d2101c" stroke="#7a0008" stroke-width="0.4"/>
<circle cx="339.33" cy="31.28" r="2.40" fill="#d2101c" stroke="#7a0008" stroke-width="0.4"/>
<circle cx="343.54" cy="32.94" r="2.40" fill="#d2101c" stroke="#7a0008" stroke-width="0.4"/>
<circle cx="347.74" cy="34.65" r="2.40" fill="#d2101c" stroke="#7a0008" stroke-width="0.4"/>
<circle cx="351.94" cy="36.55" r="2.40" fill="#d2101c" stroke="#7a0008" stroke-width="0.4"/>
<circle cx="356.15" cy="38.78" r="2.40" fill="#d2101c" stroke="#7a0008" stroke-width="0.4"/>
<circle cx="360.35" cy="41.68" r="2.40" fill="#d2101c" stroke="#7a0008" stroke-width="0.4"/>
<circle cx="364.56" cy="45.23" r="2.40" fill="#d2101c" stroke="#7a0008" stroke-width="0.4"/>
<circle cx="368.76" cy="49.55" r="2.40" fill="#d2101c" stroke="#7a0008" stroke-width="0.4"/>
<circle cx="372.96" cy="54.79" r="2.40" fill="#d2101c" stroke="#7a0008" stroke-width="0.4"/>
<circle cx="377.17" cy="60.45" r="2.40" fill="#d2101c" stroke="#7a0008" stroke-width="0.4"/>
<circle cx="381.37" cy="66.18" r="2.40" fill="#d2101c" stroke="#7a0008" stroke-width="0.4"/>
<circle cx="385.58" cy="75.88" r="2.40" fill="#d2101c" stroke="#7a0008" stroke-width="0.4"/>
<circle cx="389.78" cy="88.13" r="2.40" fill="#d2101c" stroke="#7a0008" stroke-width="0.4"/>
<circle cx="393.98" cy="102.29" r="2.40" fill="#d2101c" stroke="#7a0008" stroke-width="0.4"/>
<circle cx="398.19" cy="116.24" r="2.40" fill="#d2101c" stroke="#7a0008" stroke-width="0.4"/>
<circle cx="402.39" cy="130.33" r="2.40" fill="#d2101c" stroke="#7a0008" stroke-width="0.4"/>
<circle cx="406.60" cy="144.21" r="2.40" fill="#d2101c" stroke="#7a0008" stroke-width="0.4"/>
<circle cx="410.80" cy="154.75" r="2.40" fill="#d2101c" stroke="#7a0008" stroke-width="0.4"/>
<circle cx="415.00" cy="162.47" r="2.40" fill="#d2101c" stroke="#7a0008" stroke-width="0.4"/>
<circle cx="419.21" cy="168.56" r="2.40" fill="#d2101c" stroke="#7a0008" stroke-width="0.4"/>
<circle cx="423.41" cy="173.45" r="2.40" fill="#d2101c" stroke="#7a0008" stroke-width="0.4"/>
<circle cx="427.62" cy="175.92" r="2.40" fill="#d2101c" stroke="#7a0008" stroke-width="0.4"/>
<circle cx="431.82" cy="177.84" r="2.40" fill="#d2101c" stroke="#7a0008" stroke-width="0.4"/>
<circle cx="436.02" cy="178.76" r="2.40" fill="#d2101c" stroke="#7a0008" stroke-width="0.4"/>
<circle cx="440.23" cy="179.18" r="2.40" fill="#d2101c" stroke="#7a0008" stroke-width="0.4"/>
<circle cx="444.43" cy="179.50" r="2.40" fill="#d2101c" stroke="#7a0008" stroke-width="0.4"/>
<circle cx="448.64" cy="179.68" r="2.40" fill="#d2101c" stroke="#7a0008" stroke-width="0.4"/>
<circle cx="452.84" cy="179.71" r="2.40" fill="#d2101c" stroke="#7a0008" stroke-width="0.4"/>
<circle cx="457.04" cy="179.74" r="2.40" fill="#d2101c" stroke="#7a0008" stroke-width="0.4"/>
<circle cx="461.25" cy="179.76" r="2.40" fill="#d2101c" stroke="#7a0008" stroke-width="0.4"/>
<circle cx="465.45" cy="179.78" r="2.40" fill="#d2101c" stroke="#7a0008" stroke-width="0.4"/>
<circle cx="469.66" cy="179.80" r="2.40" fill="#d2101c" stroke="#7a0008" stroke-width="0.4"/>
<circle cx="473.86" cy="179.82" r="2.40" fill="#d2101c" stroke="#7a0008" stroke-width="0.4"/>
<circle cx="478.06" cy="179.84" r="2.40" fill="#d2101c" stroke="#7a0008" stroke-width="0.4"/>
<circle cx="482.27" cy="179.85" r="2.40" fill="#d2101c" stroke="#7a0008" stroke-width="0.4"/>
<circle cx="486.47" cy="179.86" r="2.40" fill="#d2101c" stroke="#7a0008" stroke-width="0.4"/>
<circle cx="490.68" cy="179.87" r="2.40" fill="#d2101c" stroke="#7a0008" stroke-width="0.4"/>
<circle cx="494.88" cy="179.87" r="2.40" fill="#d2101c" stroke="#7a0008" stroke-width="0.4"/>
<circle cx="499.08" cy="179.88" r="2.40" fill="#d2101c" stroke="#7a0008" stroke-width="0.4"/>
<circle cx="503.29" cy="179.88" r="2.40" fill="#d2101c" stroke="#7a0008" stroke-width="0.4"/>
<circle cx="507.49" cy="179.89" r="2.40" fill="#d2101c" stroke="#7a0008" stroke-width="0.4"/>
<circle cx="511.70" cy="179.89" r="2.40" fill="#d2101c" stroke="#7a0008" stroke-width="0.4"/>
<line x1="308.3" y1="109.8" x2="332" y2="109.8" stroke="#8a8a8a" stroke-width="0.9"/>
<rect x="317.00" y="107.60" width="4.40" height="4.40" fill="#3a3a3a" stroke="#202020" stroke-width="0.4"/>
<text x="336.00" y="113.60" font-size="11.7" fill="#000">Pt</text>
<line x1="308.3" y1="125.2" x2="332" y2="125.2" stroke="#9a90b0" stroke-width="0.9"/>
<path d="M319.20 122.20L322.20 125.20L319.20 128.20L316.20 125.20Z" fill="#2ad82a" stroke="#0b8a0b" stroke-width="0.4"/>
<text x="336.00" y="128.80" font-size="11.7" fill="#000">TiN</text>
<line x1="308.3" y1="140.7" x2="332" y2="140.7" stroke="#6a6ae8" stroke-width="0.9"/>
<path d="M319.20 137.86L321.90 142.86L316.50 142.86Z" fill="#0000c8" stroke="#00008a" stroke-width="0.4"/>
<text x="336.00" y="144.50" font-size="11.7" fill="#000">Ru(10nm)</text>
<line x1="308.3" y1="156" x2="332" y2="156" stroke="#e88080" stroke-width="0.9"/>
<circle cx="319.20" cy="156.00" r="2.50" fill="#d2101c" stroke="#7a0008" stroke-width="0.4"/>
<text x="336" y="158.9" font-size="11.7">RuO<tspan font-size="7.8" dy="4.3">2</tspan><tspan dy="-4.3">(30nm)</tspan></text>
<text x="307.9" y="177.2" font-size="11.8">on HfO<tspan font-size="7.8" dy="4.3">2</tspan><tspan dy="-4.3">(3.3nm)/Si</tspan></text>
<rect x="43.15" y="219.0" width="211.95" height="181.80" fill="none" stroke="#000" stroke-width="2"/>
<path d="M69.64 400.8v-3.5M69.64 219.0v3.5M122.63 400.8v-3.5M122.63 219.0v3.5M175.62 400.8v-3.5M175.62 219.0v3.5M228.62 400.8v-3.5M228.62 219.0v3.5M96.14 400.8v-2.2M96.14 219.0v2.2M149.13 400.8v-2.2M149.13 219.0v2.2M202.12 400.8v-2.2M202.12 219.0v2.2M43.15 340.20h3.5M255.1 340.20h-3.5M43.15 279.80h3.5M255.1 279.80h-3.5M43.15 370.40h2.2M255.1 370.40h-2.2M43.15 310.00h2.2M255.1 310.00h-2.2M43.15 249.60h2.2M255.1 249.60h-2.2" stroke="#000" stroke-width="1.3" fill="none"/>
<text x="38.20" y="403.90" font-size="10" text-anchor="end" fill="#1e1e1e" class="n">0.0</text>
<text x="38.20" y="343.50" font-size="10" text-anchor="end" fill="#1e1e1e" class="n">0.2</text>
<text x="38.20" y="283.10" font-size="10" text-anchor="end" fill="#1e1e1e" class="n">0.4</text>
<text x="38.20" y="222.70" font-size="10" text-anchor="end" fill="#1e1e1e" class="n">0.6</text>
<text x="69.05" y="413.30" font-size="10" text-anchor="middle" fill="#1e1e1e" class="n">-2</text>
<text x="122.03" y="413.30" font-size="10" text-anchor="middle" fill="#1e1e1e" class="n">-1</text>
<text x="175.03" y="413.30" font-size="10" text-anchor="middle" fill="#1e1e1e" class="n">0</text>
<text x="228.02" y="413.30" font-size="10" text-anchor="middle" fill="#1e1e1e" class="n">1</text>
<text x="102.00" y="427.40" font-size="13.3" fill="#000" textLength="93.5" lengthAdjust="spacing">Gate voltage [V]</text>
<text transform="translate(14.9,313.6) rotate(-90)" font-size="13.8" class="m" text-anchor="middle" textLength="134.5" lengthAdjust="spacing">Capacitance (uF/cm<tspan font-size="8.8" dy="-6.3">2</tspan><tspan dy="6.3">)</tspan></text>
<text x="237.60" y="241.20" font-size="17" text-anchor="middle" fill="#000" class="n">(b)</text>
<polyline points="43.15,236.61 48.45,236.71 53.75,236.85 59.05,237.02 64.35,237.22 69.64,237.48 74.94,237.80 80.24,238.12 85.54,238.40 90.84,238.66 96.14,238.96 101.44,239.33 106.74,239.89 112.04,240.64 117.34,241.45 122.63,242.26 127.93,243.26 133.23,244.77 138.53,247.18 143.83,249.30 149.13,253.22 154.43,257.75 159.73,264.10 165.03,275.27 170.33,297.01 175.62,329.03 180.92,363.76 186.22,382.78 191.52,391.84 196.82,394.26 202.12,394.43 207.42,394.57 212.72,394.68 218.02,394.78 223.32,394.85 228.62,394.91 233.91,394.95 239.21,394.98 244.51,395.00 249.81,395.01 255.11,395.01" fill="none" stroke="#606060" stroke-width="0.8"/>
<polyline points="43.15,237.52 48.45,237.61 53.75,237.75 59.05,237.93 64.35,238.12 69.64,238.38 74.94,238.71 80.24,239.03 85.54,239.30 90.84,239.55 96.14,239.84 101.44,240.24 106.74,240.89 112.04,241.87 117.34,243.17 122.63,244.77 127.93,247.49 133.23,250.20 138.53,253.22 143.83,257.75 149.13,263.19 154.43,272.55 159.73,284.63 165.03,300.34 170.33,317.85 175.62,339.60 180.92,359.83 186.22,376.44 191.52,386.71 196.82,392.45 202.12,394.56 207.42,394.67 212.72,394.76 218.02,394.83 223.32,394.89 228.62,394.94 233.91,394.97 239.21,394.99 244.51,395.00 249.81,395.01 255.11,395.01" fill="none" stroke="#6a6ae0" stroke-width="0.8"/>
<polyline points="43.15,240.54 48.45,240.70 53.75,240.91 59.05,241.16 64.35,241.45 69.64,241.77 74.94,242.18 80.24,242.65 85.54,243.26 90.84,244.00 96.14,244.83 101.44,245.67 106.74,246.58 112.04,247.79 117.34,249.60 122.63,250.81 127.93,252.02 133.23,254.43 138.53,257.15 143.83,260.17 149.13,264.10 154.43,270.74 159.73,277.08 165.03,286.44 170.33,295.81 175.62,309.70 180.92,328.42 186.22,349.86 191.52,371.61 196.82,387.92 202.12,394.26 207.42,394.86 212.72,394.90 218.02,394.93 223.32,394.96 228.62,394.98 233.91,394.99 239.21,395.00 244.51,395.01 249.81,395.01 255.11,395.01" fill="none" stroke="#e08080" stroke-width="0.8"/>
<polyline points="43.15,239.33 48.45,239.43 53.75,239.70 59.05,240.09 64.35,240.54 69.64,241.26 74.94,242.28 80.24,243.26 85.54,244.00 90.84,244.71 96.14,245.67 101.44,247.49 106.74,250.20 112.04,253.53 117.34,257.75 122.63,263.19 127.93,271.95 133.23,287.35 138.53,311.51 143.83,342.92 149.13,367.08 154.43,382.78 159.73,390.03 165.03,392.45 170.33,393.65 175.62,394.86 180.92,395.69 186.22,396.37 191.52,397.11 196.82,397.58 202.12,397.70 207.42,397.80 212.72,397.89 218.02,397.96 223.32,398.03 228.62,398.08 233.91,398.12 239.21,398.15 244.51,398.17 249.81,398.18 255.11,398.18" fill="none" stroke="#9a90b8" stroke-width="0.8"/>
<rect x="40.95" y="234.41" width="4.40" height="4.40" fill="#3a3a3a" stroke="#202020" stroke-width="0.4"/>
<rect x="46.25" y="234.51" width="4.40" height="4.40" fill="#3a3a3a" stroke="#202020" stroke-width="0.4"/>
<rect x="51.55" y="234.65" width="4.40" height="4.40" fill="#3a3a3a" stroke="#202020" stroke-width="0.4"/>
<rect x="56.85" y="234.82" width="4.40" height="4.40" fill="#3a3a3a" stroke="#202020" stroke-width="0.4"/>
<rect x="62.15" y="235.02" width="4.40" height="4.40" fill="#3a3a3a" stroke="#202020" stroke-width="0.4"/>
<rect x="67.44" y="235.28" width="4.40" height="4.40" fill="#3a3a3a" stroke="#202020" stroke-width="0.4"/>
<rect x="72.74" y="235.60" width="4.40" height="4.40" fill="#3a3a3a" stroke="#202020" stroke-width="0.4"/>
<rect x="78.04" y="235.92" width="4.40" height="4.40" fill="#3a3a3a" stroke="#202020" stroke-width="0.4"/>
<rect x="83.34" y="236.20" width="4.40" height="4.40" fill="#3a3a3a" stroke="#202020" stroke-width="0.4"/>
<rect x="88.64" y="236.46" width="4.40" height="4.40" fill="#3a3a3a" stroke="#202020" stroke-width="0.4"/>
<rect x="93.94" y="236.76" width="4.40" height="4.40" fill="#3a3a3a" stroke="#202020" stroke-width="0.4"/>
<rect x="99.24" y="237.13" width="4.40" height="4.40" fill="#3a3a3a" stroke="#202020" stroke-width="0.4"/>
<rect x="104.54" y="237.69" width="4.40" height="4.40" fill="#3a3a3a" stroke="#202020" stroke-width="0.4"/>
<rect x="109.84" y="238.44" width="4.40" height="4.40" fill="#3a3a3a" stroke="#202020" stroke-width="0.4"/>
<rect x="115.14" y="239.25" width="4.40" height="4.40" fill="#3a3a3a" stroke="#202020" stroke-width="0.4"/>
<rect x="120.43" y="240.06" width="4.40" height="4.40" fill="#3a3a3a" stroke="#202020" stroke-width="0.4"/>
<rect x="125.73" y="241.06" width="4.40" height="4.40" fill="#3a3a3a" stroke="#202020" stroke-width="0.4"/>
<rect x="131.03" y="242.57" width="4.40" height="4.40" fill="#3a3a3a" stroke="#202020" stroke-width="0.4"/>
<rect x="136.33" y="244.98" width="4.40" height="4.40" fill="#3a3a3a" stroke="#202020" stroke-width="0.4"/>
<rect x="141.63" y="247.10" width="4.40" height="4.40" fill="#3a3a3a" stroke="#202020" stroke-width="0.4"/>
<rect x="146.93" y="251.02" width="4.40" height="4.40" fill="#3a3a3a" stroke="#202020" stroke-width="0.4"/>
<rect x="152.23" y="255.55" width="4.40" height="4.40" fill="#3a3a3a" stroke="#202020" stroke-width="0.4"/>
<rect x="157.53" y="261.90" width="4.40" height="4.40" fill="#3a3a3a" stroke="#202020" stroke-width="0.4"/>
<rect x="162.83" y="273.07" width="4.40" height="4.40" fill="#3a3a3a" stroke="#202020" stroke-width="0.4"/>
<rect x="168.13" y="294.81" width="4.40" height="4.40" fill="#3a3a3a" stroke="#202020" stroke-width="0.4"/>
<rect x="173.43" y="326.83" width="4.40" height="4.40" fill="#3a3a3a" stroke="#202020" stroke-width="0.4"/>
<rect x="178.72" y="361.56" width="4.40" height="4.40" fill="#3a3a3a" stroke="#202020" stroke-width="0.4"/>
<rect x="184.02" y="380.58" width="4.40" height="4.40" fill="#3a3a3a" stroke="#202020" stroke-width="0.4"/>
<rect x="189.32" y="389.64" width="4.40" height="4.40" fill="#3a3a3a" stroke="#202020" stroke-width="0.4"/>
<rect x="194.62" y="392.06" width="4.40" height="4.40" fill="#3a3a3a" stroke="#202020" stroke-width="0.4"/>
<rect x="199.92" y="392.23" width="4.40" height="4.40" fill="#3a3a3a" stroke="#202020" stroke-width="0.4"/>
<rect x="205.22" y="392.37" width="4.40" height="4.40" fill="#3a3a3a" stroke="#202020" stroke-width="0.4"/>
<rect x="210.52" y="392.48" width="4.40" height="4.40" fill="#3a3a3a" stroke="#202020" stroke-width="0.4"/>
<rect x="215.82" y="392.58" width="4.40" height="4.40" fill="#3a3a3a" stroke="#202020" stroke-width="0.4"/>
<rect x="221.12" y="392.65" width="4.40" height="4.40" fill="#3a3a3a" stroke="#202020" stroke-width="0.4"/>
<rect x="226.42" y="392.71" width="4.40" height="4.40" fill="#3a3a3a" stroke="#202020" stroke-width="0.4"/>
<rect x="231.71" y="392.75" width="4.40" height="4.40" fill="#3a3a3a" stroke="#202020" stroke-width="0.4"/>
<rect x="237.01" y="392.78" width="4.40" height="4.40" fill="#3a3a3a" stroke="#202020" stroke-width="0.4"/>
<rect x="242.31" y="392.80" width="4.40" height="4.40" fill="#3a3a3a" stroke="#202020" stroke-width="0.4"/>
<rect x="247.61" y="392.81" width="4.40" height="4.40" fill="#3a3a3a" stroke="#202020" stroke-width="0.4"/>
<rect x="252.91" y="392.81" width="4.40" height="4.40" fill="#3a3a3a" stroke="#202020" stroke-width="0.4"/>
<path d="M43.15 234.69L45.85 239.68L40.45 239.68Z" fill="#0000c8" stroke="#00008a" stroke-width="0.4"/>
<path d="M48.45 234.78L51.15 239.77L45.75 239.77Z" fill="#0000c8" stroke="#00008a" stroke-width="0.4"/>
<path d="M53.75 234.92L56.45 239.91L51.05 239.91Z" fill="#0000c8" stroke="#00008a" stroke-width="0.4"/>
<path d="M59.05 235.09L61.75 240.09L56.35 240.09Z" fill="#0000c8" stroke="#00008a" stroke-width="0.4"/>
<path d="M64.35 235.29L67.05 240.28L61.65 240.28Z" fill="#0000c8" stroke="#00008a" stroke-width="0.4"/>
<path d="M69.64 235.55L72.34 240.54L66.94 240.54Z" fill="#0000c8" stroke="#00008a" stroke-width="0.4"/>
<path d="M74.94 235.87L77.64 240.87L72.24 240.87Z" fill="#0000c8" stroke="#00008a" stroke-width="0.4"/>
<path d="M80.24 236.19L82.94 241.19L77.54 241.19Z" fill="#0000c8" stroke="#00008a" stroke-width="0.4"/>
<path d="M85.54 236.46L88.24 241.46L82.84 241.46Z" fill="#0000c8" stroke="#00008a" stroke-width="0.4"/>
<path d="M90.84 236.71L93.54 241.71L88.14 241.71Z" fill="#0000c8" stroke="#00008a" stroke-width="0.4"/>
<path d="M96.14 237.00L98.84 242.00L93.44 242.00Z" fill="#0000c8" stroke="#00008a" stroke-width="0.4"/>
<path d="M101.44 237.40L104.14 242.40L98.74 242.40Z" fill="#0000c8" stroke="#00008a" stroke-width="0.4"/>
<path d="M106.74 238.05L109.44 243.05L104.04 243.05Z" fill="#0000c8" stroke="#00008a" stroke-width="0.4"/>
<path d="M112.04 239.04L114.74 244.03L109.34 244.03Z" fill="#0000c8" stroke="#00008a" stroke-width="0.4"/>
<path d="M117.34 240.33L120.04 245.33L114.64 245.33Z" fill="#0000c8" stroke="#00008a" stroke-width="0.4"/>
<path d="M122.63 241.93L125.33 246.93L119.93 246.93Z" fill="#0000c8" stroke="#00008a" stroke-width="0.4"/>
<path d="M127.93 244.65L130.63 249.65L125.23 249.65Z" fill="#0000c8" stroke="#00008a" stroke-width="0.4"/>
<path d="M133.23 247.37L135.93 252.36L130.53 252.36Z" fill="#0000c8" stroke="#00008a" stroke-width="0.4"/>
<path d="M138.53 250.39L141.23 255.38L135.83 255.38Z" fill="#0000c8" stroke="#00008a" stroke-width="0.4"/>
<path d="M143.83 254.92L146.53 259.91L141.13 259.91Z" fill="#0000c8" stroke="#00008a" stroke-width="0.4"/>
<path d="M149.13 260.36L151.83 265.35L146.43 265.35Z" fill="#0000c8" stroke="#00008a" stroke-width="0.4"/>
<path d="M154.43 269.72L157.13 274.71L151.73 274.71Z" fill="#0000c8" stroke="#00008a" stroke-width="0.4"/>
<path d="M159.73 281.80L162.43 286.79L157.03 286.79Z" fill="#0000c8" stroke="#00008a" stroke-width="0.4"/>
<path d="M165.03 297.50L167.73 302.50L162.33 302.50Z" fill="#0000c8" stroke="#00008a" stroke-width="0.4"/>
<path d="M170.33 315.02L173.03 320.01L167.63 320.01Z" fill="#0000c8" stroke="#00008a" stroke-width="0.4"/>
<path d="M175.62 336.76L178.32 341.76L172.93 341.76Z" fill="#0000c8" stroke="#00008a" stroke-width="0.4"/>
<path d="M180.92 357.00L183.62 361.99L178.22 361.99Z" fill="#0000c8" stroke="#00008a" stroke-width="0.4"/>
<path d="M186.22 373.61L188.92 378.60L183.52 378.60Z" fill="#0000c8" stroke="#00008a" stroke-width="0.4"/>
<path d="M191.52 383.87L194.22 388.87L188.82 388.87Z" fill="#0000c8" stroke="#00008a" stroke-width="0.4"/>
<path d="M196.82 389.61L199.52 394.61L194.12 394.61Z" fill="#0000c8" stroke="#00008a" stroke-width="0.4"/>
<path d="M202.12 391.73L204.82 396.72L199.42 396.72Z" fill="#0000c8" stroke="#00008a" stroke-width="0.4"/>
<path d="M207.42 391.83L210.12 396.83L204.72 396.83Z" fill="#0000c8" stroke="#00008a" stroke-width="0.4"/>
<path d="M212.72 391.93L215.42 396.92L210.02 396.92Z" fill="#0000c8" stroke="#00008a" stroke-width="0.4"/>
<path d="M218.02 392.00L220.72 396.99L215.32 396.99Z" fill="#0000c8" stroke="#00008a" stroke-width="0.4"/>
<path d="M223.32 392.06L226.02 397.05L220.62 397.05Z" fill="#0000c8" stroke="#00008a" stroke-width="0.4"/>
<path d="M228.62 392.10L231.31 397.10L225.92 397.10Z" fill="#0000c8" stroke="#00008a" stroke-width="0.4"/>
<path d="M233.91 392.13L236.61 397.13L231.21 397.13Z" fill="#0000c8" stroke="#00008a" stroke-width="0.4"/>
<path d="M239.21 392.16L241.91 397.15L236.51 397.15Z" fill="#0000c8" stroke="#00008a" stroke-width="0.4"/>
<path d="M244.51 392.17L247.21 397.16L241.81 397.16Z" fill="#0000c8" stroke="#00008a" stroke-width="0.4"/>
<path d="M249.81 392.18L252.51 397.17L247.11 397.17Z" fill="#0000c8" stroke="#00008a" stroke-width="0.4"/>
<path d="M255.11 392.18L257.81 397.17L252.41 397.17Z" fill="#0000c8" stroke="#00008a" stroke-width="0.4"/>
<circle cx="43.15" cy="240.54" r="2.50" fill="#d2101c" stroke="#7a0008" stroke-width="0.4"/>
<circle cx="48.45" cy="240.70" r="2.50" fill="#d2101c" stroke="#7a0008" stroke-width="0.4"/>
<circle cx="53.75" cy="240.91" r="2.50" fill="#d2101c" stroke="#7a0008" stroke-width="0.4"/>
<circle cx="59.05" cy="241.16" r="2.50" fill="#d2101c" stroke="#7a0008" stroke-width="0.4"/>
<circle cx="64.35" cy="241.45" r="2.50" fill="#d2101c" stroke="#7a0008" stroke-width="0.4"/>
<circle cx="69.64" cy="241.77" r="2.50" fill="#d2101c" stroke="#7a0008" stroke-width="0.4"/>
<circle cx="74.94" cy="242.18" r="2.50" fill="#d2101c" stroke="#7a0008" stroke-width="0.4"/>
<circle cx="80.24" cy="242.65" r="2.50" fill="#d2101c" stroke="#7a0008" stroke-width="0.4"/>
<circle cx="85.54" cy="243.26" r="2.50" fill="#d2101c" stroke="#7a0008" stroke-width="0.4"/>
<circle cx="90.84" cy="244.00" r="2.50" fill="#d2101c" stroke="#7a0008" stroke-width="0.4"/>
<circle cx="96.14" cy="244.83" r="2.50" fill="#d2101c" stroke="#7a0008" stroke-width="0.4"/>
<circle cx="101.44" cy="245.67" r="2.50" fill="#d2101c" stroke="#7a0008" stroke-width="0.4"/>
<circle cx="106.74" cy="246.58" r="2.50" fill="#d2101c" stroke="#7a0008" stroke-width="0.4"/>
<circle cx="112.04" cy="247.79" r="2.50" fill="#d2101c" stroke="#7a0008" stroke-width="0.4"/>
<circle cx="117.34" cy="249.60" r="2.50" fill="#d2101c" stroke="#7a0008" stroke-width="0.4"/>
<circle cx="122.63" cy="250.81" r="2.50" fill="#d2101c" stroke="#7a0008" stroke-width="0.4"/>
<circle cx="127.93" cy="252.02" r="2.50" fill="#d2101c" stroke="#7a0008" stroke-width="0.4"/>
<circle cx="133.23" cy="254.43" r="2.50" fill="#d2101c" stroke="#7a0008" stroke-width="0.4"/>
<circle cx="138.53" cy="257.15" r="2.50" fill="#d2101c" stroke="#7a0008" stroke-width="0.4"/>
<circle cx="143.83" cy="260.17" r="2.50" fill="#d2101c" stroke="#7a0008" stroke-width="0.4"/>
<circle cx="149.13" cy="264.10" r="2.50" fill="#d2101c" stroke="#7a0008" stroke-width="0.4"/>
<circle cx="154.43" cy="270.74" r="2.50" fill="#d2101c" stroke="#7a0008" stroke-width="0.4"/>
<circle cx="159.73" cy="277.08" r="2.50" fill="#d2101c" stroke="#7a0008" stroke-width="0.4"/>
<circle cx="165.03" cy="286.44" r="2.50" fill="#d2101c" stroke="#7a0008" stroke-width="0.4"/>
<circle cx="170.33" cy="295.81" r="2.50" fill="#d2101c" stroke="#7a0008" stroke-width="0.4"/>
<circle cx="175.62" cy="309.70" r="2.50" fill="#d2101c" stroke="#7a0008" stroke-width="0.4"/>
<circle cx="180.92" cy="328.42" r="2.50" fill="#d2101c" stroke="#7a0008" stroke-width="0.4"/>
<circle cx="186.22" cy="349.86" r="2.50" fill="#d2101c" stroke="#7a0008" stroke-width="0.4"/>
<circle cx="191.52" cy="371.61" r="2.50" fill="#d2101c" stroke="#7a0008" stroke-width="0.4"/>
<circle cx="196.82" cy="387.92" r="2.50" fill="#d2101c" stroke="#7a0008" stroke-width="0.4"/>
<circle cx="202.12" cy="394.26" r="2.50" fill="#d2101c" stroke="#7a0008" stroke-width="0.4"/>
<circle cx="207.42" cy="394.86" r="2.50" fill="#d2101c" stroke="#7a0008" stroke-width="0.4"/>
<circle cx="212.72" cy="394.90" r="2.50" fill="#d2101c" stroke="#7a0008" stroke-width="0.4"/>
<circle cx="218.02" cy="394.93" r="2.50" fill="#d2101c" stroke="#7a0008" stroke-width="0.4"/>
<circle cx="223.32" cy="394.96" r="2.50" fill="#d2101c" stroke="#7a0008" stroke-width="0.4"/>
<circle cx="228.62" cy="394.98" r="2.50" fill="#d2101c" stroke="#7a0008" stroke-width="0.4"/>
<circle cx="233.91" cy="394.99" r="2.50" fill="#d2101c" stroke="#7a0008" stroke-width="0.4"/>
<circle cx="239.21" cy="395.00" r="2.50" fill="#d2101c" stroke="#7a0008" stroke-width="0.4"/>
<circle cx="244.51" cy="395.01" r="2.50" fill="#d2101c" stroke="#7a0008" stroke-width="0.4"/>
<circle cx="249.81" cy="395.01" r="2.50" fill="#d2101c" stroke="#7a0008" stroke-width="0.4"/>
<circle cx="255.11" cy="395.01" r="2.50" fill="#d2101c" stroke="#7a0008" stroke-width="0.4"/>
<path d="M43.15 236.33L46.15 239.33L43.15 242.33L40.15 239.33Z" fill="#2ad82a" stroke="#0b8a0b" stroke-width="0.4"/>
<path d="M48.45 236.43L51.45 239.43L48.45 242.43L45.45 239.43Z" fill="#2ad82a" stroke="#0b8a0b" stroke-width="0.4"/>
<path d="M53.75 236.70L56.75 239.70L53.75 242.70L50.75 239.70Z" fill="#2ad82a" stroke="#0b8a0b" stroke-width="0.4"/>
<path d="M59.05 237.09L62.05 240.09L59.05 243.09L56.05 240.09Z" fill="#2ad82a" stroke="#0b8a0b" stroke-width="0.4"/>
<path d="M64.35 237.54L67.35 240.54L64.35 243.54L61.35 240.54Z" fill="#2ad82a" stroke="#0b8a0b" stroke-width="0.4"/>
<path d="M69.64 238.26L72.64 241.26L69.64 244.26L66.64 241.26Z" fill="#2ad82a" stroke="#0b8a0b" stroke-width="0.4"/>
<path d="M74.94 239.28L77.94 242.28L74.94 245.28L71.94 242.28Z" fill="#2ad82a" stroke="#0b8a0b" stroke-width="0.4"/>
<path d="M80.24 240.26L83.24 243.26L80.24 246.26L77.24 243.26Z" fill="#2ad82a" stroke="#0b8a0b" stroke-width="0.4"/>
<path d="M85.54 241.00L88.54 244.00L85.54 247.00L82.54 244.00Z" fill="#2ad82a" stroke="#0b8a0b" stroke-width="0.4"/>
<path d="M90.84 241.71L93.84 244.71L90.84 247.71L87.84 244.71Z" fill="#2ad82a" stroke="#0b8a0b" stroke-width="0.4"/>
<path d="M96.14 242.67L99.14 245.67L96.14 248.67L93.14 245.67Z" fill="#2ad82a" stroke="#0b8a0b" stroke-width="0.4"/>
<path d="M101.44 244.49L104.44 247.49L101.44 250.49L98.44 247.49Z" fill="#2ad82a" stroke="#0b8a0b" stroke-width="0.4"/>
<path d="M106.74 247.20L109.74 250.20L106.74 253.20L103.74 250.20Z" fill="#2ad82a" stroke="#0b8a0b" stroke-width="0.4"/>
<path d="M112.04 250.53L115.04 253.53L112.04 256.53L109.04 253.53Z" fill="#2ad82a" stroke="#0b8a0b" stroke-width="0.4"/>
<path d="M117.34 254.75L120.34 257.75L117.34 260.75L114.34 257.75Z" fill="#2ad82a" stroke="#0b8a0b" stroke-width="0.4"/>
<path d="M122.63 260.19L125.63 263.19L122.63 266.19L119.63 263.19Z" fill="#2ad82a" stroke="#0b8a0b" stroke-width="0.4"/>
<path d="M127.93 268.95L130.93 271.95L127.93 274.95L124.93 271.95Z" fill="#2ad82a" stroke="#0b8a0b" stroke-width="0.4"/>
<path d="M133.23 284.35L136.23 287.35L133.23 290.35L130.23 287.35Z" fill="#2ad82a" stroke="#0b8a0b" stroke-width="0.4"/>
<path d="M138.53 308.51L141.53 311.51L138.53 314.51L135.53 311.51Z" fill="#2ad82a" stroke="#0b8a0b" stroke-width="0.4"/>
<path d="M143.83 339.92L146.83 342.92L143.83 345.92L140.83 342.92Z" fill="#2ad82a" stroke="#0b8a0b" stroke-width="0.4"/>
<path d="M149.13 364.08L152.13 367.08L149.13 370.08L146.13 367.08Z" fill="#2ad82a" stroke="#0b8a0b" stroke-width="0.4"/>
<path d="M154.43 379.78L157.43 382.78L154.43 385.78L151.43 382.78Z" fill="#2ad82a" stroke="#0b8a0b" stroke-width="0.4"/>
<path d="M159.73 387.03L162.73 390.03L159.73 393.03L156.73 390.03Z" fill="#2ad82a" stroke="#0b8a0b" stroke-width="0.4"/>
<path d="M165.03 389.45L168.03 392.45L165.03 395.45L162.03 392.45Z" fill="#2ad82a" stroke="#0b8a0b" stroke-width="0.4"/>
<path d="M170.33 390.65L173.33 393.65L170.33 396.65L167.33 393.65Z" fill="#2ad82a" stroke="#0b8a0b" stroke-width="0.4"/>
<path d="M175.62 391.86L178.62 394.86L175.62 397.86L172.62 394.86Z" fill="#2ad82a" stroke="#0b8a0b" stroke-width="0.4"/>
<path d="M180.92 392.69L183.92 395.69L180.92 398.69L177.92 395.69Z" fill="#2ad82a" stroke="#0b8a0b" stroke-width="0.4"/>
<path d="M186.22 393.37L189.22 396.37L186.22 399.37L183.22 396.37Z" fill="#2ad82a" stroke="#0b8a0b" stroke-width="0.4"/>
<path d="M191.52 394.11L194.52 397.11L191.52 400.11L188.52 397.11Z" fill="#2ad82a" stroke="#0b8a0b" stroke-width="0.4"/>
<path d="M196.82 394.58L199.82 397.58L196.82 400.58L193.82 397.58Z" fill="#2ad82a" stroke="#0b8a0b" stroke-width="0.4"/>
<path d="M202.12 394.70L205.12 397.70L202.12 400.70L199.12 397.70Z" fill="#2ad82a" stroke="#0b8a0b" stroke-width="0.4"/>
<path d="M207.42 394.80L210.42 397.80L207.42 400.80L204.42 397.80Z" fill="#2ad82a" stroke="#0b8a0b" stroke-width="0.4"/>
<path d="M212.72 394.89L215.72 397.89L212.72 400.89L209.72 397.89Z" fill="#2ad82a" stroke="#0b8a0b" stroke-width="0.4"/>
<path d="M218.02 394.96L221.02 397.96L218.02 400.96L215.02 397.96Z" fill="#2ad82a" stroke="#0b8a0b" stroke-width="0.4"/>
<path d="M223.32 395.03L226.32 398.03L223.32 401.03L220.32 398.03Z" fill="#2ad82a" stroke="#0b8a0b" stroke-width="0.4"/>
<path d="M228.62 395.08L231.62 398.08L228.62 401.08L225.62 398.08Z" fill="#2ad82a" stroke="#0b8a0b" stroke-width="0.4"/>
<path d="M233.91 395.12L236.91 398.12L233.91 401.12L230.91 398.12Z" fill="#2ad82a" stroke="#0b8a0b" stroke-width="0.4"/>
<path d="M239.21 395.15L242.21 398.15L239.21 401.15L236.21 398.15Z" fill="#2ad82a" stroke="#0b8a0b" stroke-width="0.4"/>
<path d="M244.51 395.17L247.51 398.17L244.51 401.17L241.51 398.17Z" fill="#2ad82a" stroke="#0b8a0b" stroke-width="0.4"/>
<path d="M249.81 395.18L252.81 398.18L249.81 401.18L246.81 398.18Z" fill="#2ad82a" stroke="#0b8a0b" stroke-width="0.4"/>
<path d="M255.11 395.18L258.11 398.18L255.11 401.18L252.11 398.18Z" fill="#2ad82a" stroke="#0b8a0b" stroke-width="0.4"/>
<line x1="45" y1="323.8" x2="71.6" y2="323.8" stroke="#8a8a8a" stroke-width="0.9"/>
<rect x="56.00" y="321.60" width="4.40" height="4.40" fill="#3a3a3a" stroke="#202020" stroke-width="0.4"/>
<text x="75.80" y="327.20" font-size="11.7" fill="#000">Pt</text>
<line x1="45" y1="338.6" x2="71.6" y2="338.6" stroke="#9a88e0" stroke-width="0.9"/>
<path d="M58.20 335.60L61.20 338.60L58.20 341.60L55.20 338.60Z" fill="#2ad82a" stroke="#0b8a0b" stroke-width="0.4"/>
<text x="75.80" y="342.60" font-size="11.7" fill="#000">TiN</text>
<line x1="45" y1="354.4" x2="71.6" y2="354.4" stroke="#6a6ae8" stroke-width="0.9"/>
<path d="M58.20 351.56L60.90 356.56L55.50 356.56Z" fill="#0000c8" stroke="#00008a" stroke-width="0.4"/>
<text x="75.80" y="358.20" font-size="11.7" fill="#000">Ru (10nm)</text>
<line x1="45" y1="369.9" x2="71.6" y2="369.9" stroke="#e88080" stroke-width="0.9"/>
<circle cx="58.20" cy="369.90" r="2.50" fill="#d2101c" stroke="#7a0008" stroke-width="0.4"/>
<text x="75.8" y="373.5" font-size="11.7">RuO<tspan font-size="7.8" dy="4.3">2</tspan><tspan dy="-4.3">(30nm)</tspan></text>
<text x="49.3" y="392.5" font-size="11.8">on SiO<tspan font-size="7.8" dy="4.3">2</tspan><tspan dy="-4.3">(6 nm)/Si</tspan></text>
<rect x="304.1" y="219.5" width="212.80" height="179.00" fill="none" stroke="#000" stroke-width="2"/>
<path d="M327.82 398.5v-3.5M327.82 219.5v3.5M351.44 398.5v-3.5M351.44 219.5v3.5M375.06 398.5v-3.5M375.06 219.5v3.5M398.68 398.5v-3.5M398.68 219.5v3.5M422.30 398.5v-3.5M422.30 219.5v3.5M445.92 398.5v-3.5M445.92 219.5v3.5M469.54 398.5v-3.5M469.54 219.5v3.5M493.16 398.5v-3.5M493.16 219.5v3.5M316.01 398.5v-2.2M316.01 219.5v2.2M339.63 398.5v-2.2M339.63 219.5v2.2M363.25 398.5v-2.2M363.25 219.5v2.2M386.87 398.5v-2.2M386.87 219.5v2.2M410.49 398.5v-2.2M410.49 219.5v2.2M434.11 398.5v-2.2M434.11 219.5v2.2M457.73 398.5v-2.2M457.73 219.5v2.2M481.35 398.5v-2.2M481.35 219.5v2.2M504.97 398.5v-2.2M504.97 219.5v2.2M304.1 378.52h3.5M516.9 378.52h-3.5M304.1 358.68h3.5M516.9 358.68h-3.5M304.1 338.84h3.5M516.9 338.84h-3.5M304.1 319.00h3.5M516.9 319.00h-3.5M304.1 299.16h3.5M516.9 299.16h-3.5M304.1 279.32h3.5M516.9 279.32h-3.5M304.1 259.48h3.5M516.9 259.48h-3.5M304.1 239.64h3.5M516.9 239.64h-3.5M304.1 388.44h2.2M516.9 388.44h-2.2M304.1 368.60h2.2M516.9 368.60h-2.2M304.1 348.76h2.2M516.9 348.76h-2.2M304.1 328.92h2.2M516.9 328.92h-2.2M304.1 309.08h2.2M516.9 309.08h-2.2M304.1 289.24h2.2M516.9 289.24h-2.2M304.1 269.40h2.2M516.9 269.40h-2.2M304.1 249.56h2.2M516.9 249.56h-2.2M304.1 229.72h2.2M516.9 229.72h-2.2" stroke="#000" stroke-width="1.3" fill="none"/>
<text x="299.10" y="223.20" font-size="10" text-anchor="end" font-weight="bold" letter-spacing="0.15" fill="#000">0.8</text>
<text x="299.10" y="243.04" font-size="10" text-anchor="end" font-weight="bold" letter-spacing="0.15" fill="#000">0.6</text>
<text x="299.10" y="262.88" font-size="10" text-anchor="end" font-weight="bold" letter-spacing="0.15" fill="#000">0.4</text>
<text x="299.10" y="282.72" font-size="10" text-anchor="end" font-weight="bold" letter-spacing="0.15" fill="#000">0.2</text>
<text x="299.10" y="302.56" font-size="10" text-anchor="end" font-weight="bold" letter-spacing="0.15" fill="#000">0.0</text>
<text x="299.10" y="322.40" font-size="10" text-anchor="end" font-weight="bold" letter-spacing="0.15" fill="#000">-0.2</text>
<text x="299.10" y="342.24" font-size="10" text-anchor="end" font-weight="bold" letter-spacing="0.15" fill="#000">-0.4</text>
<text x="299.10" y="362.08" font-size="10" text-anchor="end" font-weight="bold" letter-spacing="0.15" fill="#000">-0.6</text>
<text x="299.10" y="381.92" font-size="10" text-anchor="end" font-weight="bold" letter-spacing="0.15" fill="#000">-0.8</text>
<text x="299.10" y="401.76" font-size="10" text-anchor="end" font-weight="bold" letter-spacing="0.15" fill="#000">-1.0</text>
<text x="304.20" y="410.20" font-size="10" text-anchor="middle" font-weight="bold" fill="#000">0</text>
<text x="327.82" y="410.20" font-size="10" text-anchor="middle" font-weight="bold" fill="#000">1</text>
<text x="351.44" y="410.20" font-size="10" text-anchor="middle" font-weight="bold" fill="#000">2</text>
<text x="375.06" y="410.20" font-size="10" text-anchor="middle" font-weight="bold" fill="#000">3</text>
<text x="398.68" y="410.20" font-size="10" text-anchor="middle" font-weight="bold" fill="#000">4</text>
<text x="422.30" y="410.20" font-size="10" text-anchor="middle" font-weight="bold" fill="#000">5</text>
<text x="445.92" y="410.20" font-size="10" text-anchor="middle" font-weight="bold" fill="#000">6</text>
<text x="469.54" y="410.20" font-size="10" text-anchor="middle" font-weight="bold" fill="#000">7</text>
<text x="493.16" y="410.20" font-size="10" text-anchor="middle" font-weight="bold" fill="#000">8</text>
<text x="516.78" y="410.20" font-size="10" text-anchor="middle" font-weight="bold" fill="#000">9</text>
<text x="372.70" y="425.80" font-size="12.4" fill="#000" class="m" textLength="62" lengthAdjust="spacing">CET [nm]</text>
<text transform="translate(274.1,305.3) rotate(-90)" font-size="13.8" class="m" text-anchor="middle" textLength="127.5" lengthAdjust="spacing">Flat band voltage (V)</text>
<text x="500.90" y="237.00" font-size="17" text-anchor="middle" fill="#000" class="n">(d)</text>
<text x="412.8" y="257.7" font-size="11" class="m" textLength="81" lengthAdjust="spacing">on HfO<tspan font-size="7" dy="3.6">2</tspan><tspan dy="-3.6">/t-SiO</tspan><tspan font-size="7" dy="3.6">2</tspan></text>
<rect x="314.10" y="223.90" width="7.00" height="7.00" fill="#777" stroke="#333" stroke-width="1.1"/>
<path d="M317.60 237.40L322.40 242.20L317.60 247.00L312.80 242.20Z" fill="#2ad82a" stroke="#0a700a" stroke-width="1.0"/>
<path d="M317.60 251.58L322.10 259.90L313.10 259.90Z" fill="#e88830" stroke="#b05a10" stroke-width="0.8"/>
<path d="M317.60 276.51L321.90 268.56L313.30 268.56Z" fill="#0000c8" stroke="#00008a" stroke-width="0.8"/>
<circle cx="317.60" cy="285.30" r="3.60" fill="#d2101c" stroke="#7a0008" stroke-width="0.8"/>
<text x="332.50" y="231.00" font-size="11" fill="#000" textLength="10.4" lengthAdjust="spacing">Pt</text>
<text x="333.20" y="245.70" font-size="11" fill="#000" textLength="17.2" lengthAdjust="spacing">TiN</text>
<text x="332.50" y="260.40" font-size="11" fill="#000" textLength="66.2" lengthAdjust="spacing">Ru(2nm)/Pt</text>
<text x="332.30" y="275.60" font-size="11" fill="#000" textLength="56.8" lengthAdjust="spacing">Ru(10nm)</text>
<text x="332.3" y="289.1" font-size="11" textLength="70.5" lengthAdjust="spacing">RuO<tspan font-size="7.4" dy="4.2">2</tspan><tspan dy="-4.2">(30nm)</tspan></text>
<text x="305.20" y="302.50" font-size="11" fill="#111" textLength="41.8" lengthAdjust="spacing">~5.0eV</text>
<text x="305.50" y="353.00" font-size="10.8" fill="#111" textLength="40.6" lengthAdjust="spacing">4.68eV</text>
<line x1="305.2" y1="303.3" x2="515.8" y2="306.9" stroke="#222" stroke-width="0.9"/>
<line x1="305.2" y1="304.9" x2="515.8" y2="307.6" stroke="#f0a0b0" stroke-width="1"/>
<line x1="305.2" y1="306.7" x2="515.8" y2="309.6" stroke="#9a60d8" stroke-width="1.6"/>
<line x1="305.2" y1="339.6" x2="515.8" y2="324.6" stroke="#222" stroke-width="0.9"/>
<path d="M377.20 325.40L380.20 328.40L377.20 331.40L374.20 328.40Z" fill="#2ad82a" stroke="#0b8a0b" stroke-width="0.6"/>
<path d="M386.70 328.90L389.70 331.90L386.70 334.90L383.70 331.90Z" fill="#2ad82a" stroke="#0b8a0b" stroke-width="0.6"/>
<path d="M397.10 323.70L400.10 326.70L397.10 329.70L394.10 326.70Z" fill="#2ad82a" stroke="#0b8a0b" stroke-width="0.6"/>
<path d="M403.10 328.00L406.10 331.00L403.10 334.00L400.10 331.00Z" fill="#2ad82a" stroke="#0b8a0b" stroke-width="0.6"/>
<path d="M397.10 332.40L400.10 335.40L397.10 338.40L394.10 335.40Z" fill="#2ad82a" stroke="#0b8a0b" stroke-width="0.6"/>
<path d="M412.70 328.00L415.70 331.00L412.70 334.00L409.70 331.00Z" fill="#2ad82a" stroke="#0b8a0b" stroke-width="0.6"/>
<path d="M424.80 327.20L427.80 330.20L424.80 333.20L421.80 330.20Z" fill="#2ad82a" stroke="#0b8a0b" stroke-width="0.6"/>
<path d="M367.70 331.50L370.70 334.50L367.70 337.50L364.70 334.50Z" fill="#2ad82a" stroke="#0b8a0b" stroke-width="0.6"/>
<path d="M357.30 334.10L360.30 337.10L357.30 340.10L354.30 337.10Z" fill="#2ad82a" stroke="#0b8a0b" stroke-width="0.6"/>
<path d="M423.80 329.90L426.80 332.90L423.80 335.90L420.80 332.90Z" fill="#2ad82a" stroke="#0b8a0b" stroke-width="0.6"/>
<path d="M426.70 327.00L429.70 330.00L426.70 333.00L423.70 330.00Z" fill="#2ad82a" stroke="#0b8a0b" stroke-width="0.6"/>
<path d="M442.10 328.00L445.10 331.00L442.10 334.00L439.10 331.00Z" fill="#2ad82a" stroke="#0b8a0b" stroke-width="0.6"/>
<path d="M445.00 321.60L448.00 324.60L445.00 327.60L442.00 324.60Z" fill="#2ad82a" stroke="#0b8a0b" stroke-width="0.6"/>
<path d="M455.60 331.80L458.60 334.80L455.60 337.80L452.60 334.80Z" fill="#2ad82a" stroke="#0b8a0b" stroke-width="0.6"/>
<path d="M461.30 327.40L464.30 330.40L461.30 333.40L458.30 330.40Z" fill="#2ad82a" stroke="#0b8a0b" stroke-width="0.6"/>
<path d="M477.70 322.20L480.70 325.20L477.70 328.20L474.70 325.20Z" fill="#2ad82a" stroke="#0b8a0b" stroke-width="0.6"/>
<path d="M353.10 337.80L356.10 340.80L353.10 343.80L350.10 340.80Z" fill="#2ad82a" stroke="#0b8a0b" stroke-width="0.6"/>
<path d="M357.70 335.50L360.70 338.50L357.70 341.50L354.70 338.50Z" fill="#2ad82a" stroke="#0b8a0b" stroke-width="0.6"/>
<path d="M356.90 338.50L359.90 341.50L356.90 344.50L353.90 341.50Z" fill="#2ad82a" stroke="#0b8a0b" stroke-width="0.6"/>
<path d="M360.00 337.80L363.00 340.80L360.00 343.80L357.00 340.80Z" fill="#2ad82a" stroke="#0b8a0b" stroke-width="0.6"/>
<path d="M367.70 331.30L370.70 334.30L367.70 337.30L364.70 334.30Z" fill="#2ad82a" stroke="#0b8a0b" stroke-width="0.6"/>
<path d="M376.90 325.20L379.90 328.20L376.90 331.20L373.90 328.20Z" fill="#2ad82a" stroke="#0b8a0b" stroke-width="0.6"/>
<path d="M458.00 330.00L461.00 333.00L458.00 336.00L455.00 333.00Z" fill="#2ad82a" stroke="#0b8a0b" stroke-width="0.6"/>
<path d="M390.00 328.00L393.00 331.00L390.00 334.00L387.00 331.00Z" fill="#2ad82a" stroke="#0b8a0b" stroke-width="0.6"/>
<path d="M380.00 328.00L383.00 331.00L380.00 334.00L377.00 331.00Z" fill="#2ad82a" stroke="#0b8a0b" stroke-width="0.6"/>
<rect x="354.10" y="319.70" width="4.20" height="4.20" fill="#8a8a8a" stroke="#505050" stroke-width="0.6"/>
<rect x="360.30" y="318.70" width="4.20" height="4.20" fill="#8a8a8a" stroke="#505050" stroke-width="0.6"/>
<rect x="375.20" y="300.00" width="4.20" height="4.20" fill="#8a8a8a" stroke="#505050" stroke-width="0.6"/>
<rect x="383.70" y="302.10" width="4.20" height="4.20" fill="#8a8a8a" stroke="#505050" stroke-width="0.6"/>
<rect x="396.70" y="300.00" width="4.20" height="4.20" fill="#8a8a8a" stroke="#505050" stroke-width="0.6"/>
<rect x="406.20" y="295.30" width="4.20" height="4.20" fill="#8a8a8a" stroke="#505050" stroke-width="0.6"/>
<rect x="409.50" y="297.30" width="4.20" height="4.20" fill="#8a8a8a" stroke="#505050" stroke-width="0.6"/>
<rect x="416.90" y="297.30" width="4.20" height="4.20" fill="#8a8a8a" stroke="#505050" stroke-width="0.6"/>
<rect x="439.80" y="301.40" width="4.20" height="4.20" fill="#8a8a8a" stroke="#505050" stroke-width="0.6"/>
<rect x="492.00" y="302.00" width="4.20" height="4.20" fill="#8a8a8a" stroke="#505050" stroke-width="0.6"/>
<path d="M347.50 314.17L350.20 319.16L344.80 319.16Z" fill="#e88830" stroke="#b05a10" stroke-width="0.5"/>
<path d="M350.90 311.27L353.60 316.26L348.20 316.26Z" fill="#e88830" stroke="#b05a10" stroke-width="0.5"/>
<path d="M352.80 308.87L355.50 313.86L350.10 313.86Z" fill="#e88830" stroke="#b05a10" stroke-width="0.5"/>
<path d="M359.00 298.77L361.70 303.76L356.30 303.76Z" fill="#e88830" stroke="#b05a10" stroke-width="0.5"/>
<path d="M361.00 301.17L363.70 306.16L358.30 306.16Z" fill="#e88830" stroke="#b05a10" stroke-width="0.5"/>
<path d="M365.00 299.67L367.70 304.66L362.30 304.66Z" fill="#e88830" stroke="#b05a10" stroke-width="0.5"/>
<path d="M383.00 298.27L385.70 303.26L380.30 303.26Z" fill="#e88830" stroke="#b05a10" stroke-width="0.5"/>
<path d="M394.80 295.17L397.50 300.16L392.10 300.16Z" fill="#e88830" stroke="#b05a10" stroke-width="0.5"/>
<path d="M423.00 299.97L425.70 304.96L420.30 304.96Z" fill="#e88830" stroke="#b05a10" stroke-width="0.5"/>
<path d="M426.40 301.27L429.10 306.26L423.70 306.26Z" fill="#e88830" stroke="#b05a10" stroke-width="0.5"/>
<path d="M465.90 301.27L468.60 306.26L463.20 306.26Z" fill="#e88830" stroke="#b05a10" stroke-width="0.5"/>
<path d="M494.10 301.97L496.80 306.96L491.40 306.96Z" fill="#e88830" stroke="#b05a10" stroke-width="0.5"/>
<path d="M502.90 300.67L505.60 305.66L500.20 305.66Z" fill="#e88830" stroke="#b05a10" stroke-width="0.5"/>
<path d="M504.20 299.97L506.90 304.96L501.50 304.96Z" fill="#e88830" stroke="#b05a10" stroke-width="0.5"/>
<path d="M343.10 341.33L345.80 336.34L340.40 336.34Z" fill="#0000c8" stroke="#00008a" stroke-width="0.5"/>
<path d="M343.80 334.33L346.50 329.34L341.10 329.34Z" fill="#0000c8" stroke="#00008a" stroke-width="0.5"/>
<path d="M350.20 322.53L352.90 317.54L347.50 317.54Z" fill="#0000c8" stroke="#00008a" stroke-width="0.5"/>
<path d="M356.60 316.44L359.30 311.44L353.90 311.44Z" fill="#0000c8" stroke="#00008a" stroke-width="0.5"/>
<path d="M359.50 314.53L362.20 309.54L356.80 309.54Z" fill="#0000c8" stroke="#00008a" stroke-width="0.5"/>
<path d="M362.90 313.13L365.60 308.14L360.20 308.14Z" fill="#0000c8" stroke="#00008a" stroke-width="0.5"/>
<path d="M364.80 311.63L367.50 306.64L362.10 306.64Z" fill="#0000c8" stroke="#00008a" stroke-width="0.5"/>
<path d="M373.90 309.23L376.60 304.24L371.20 304.24Z" fill="#0000c8" stroke="#00008a" stroke-width="0.5"/>
<path d="M375.40 311.63L378.10 306.64L372.70 306.64Z" fill="#0000c8" stroke="#00008a" stroke-width="0.5"/>
<path d="M386.10 309.03L388.80 304.04L383.40 304.04Z" fill="#0000c8" stroke="#00008a" stroke-width="0.5"/>
<path d="M386.70 311.03L389.40 306.04L384.00 306.04Z" fill="#0000c8" stroke="#00008a" stroke-width="0.5"/>
<path d="M392.00 309.83L394.70 304.84L389.30 304.84Z" fill="#0000c8" stroke="#00008a" stroke-width="0.5"/>
<path d="M400.90 310.33L403.60 305.34L398.20 305.34Z" fill="#0000c8" stroke="#00008a" stroke-width="0.5"/>
<path d="M407.60 312.33L410.30 307.34L404.90 307.34Z" fill="#0000c8" stroke="#00008a" stroke-width="0.5"/>
<path d="M412.30 313.03L415.00 308.04L409.60 308.04Z" fill="#0000c8" stroke="#00008a" stroke-width="0.5"/>
<path d="M416.30 313.73L419.00 308.74L413.60 308.74Z" fill="#0000c8" stroke="#00008a" stroke-width="0.5"/>
<path d="M420.00 313.83L422.70 308.84L417.30 308.84Z" fill="#0000c8" stroke="#00008a" stroke-width="0.5"/>
<path d="M426.40 315.03L429.10 310.04L423.70 310.04Z" fill="#0000c8" stroke="#00008a" stroke-width="0.5"/>
<path d="M427.80 317.03L430.50 312.04L425.10 312.04Z" fill="#0000c8" stroke="#00008a" stroke-width="0.5"/>
<path d="M431.80 313.73L434.50 308.74L429.10 308.74Z" fill="#0000c8" stroke="#00008a" stroke-width="0.5"/>
<path d="M437.90 315.03L440.60 310.04L435.20 310.04Z" fill="#0000c8" stroke="#00008a" stroke-width="0.5"/>
<path d="M445.20 313.33L447.90 308.34L442.50 308.34Z" fill="#0000c8" stroke="#00008a" stroke-width="0.5"/>
<path d="M453.70 308.33L456.40 303.34L451.00 303.34Z" fill="#0000c8" stroke="#00008a" stroke-width="0.5"/>
<path d="M465.20 312.33L467.90 307.34L462.50 307.34Z" fill="#0000c8" stroke="#00008a" stroke-width="0.5"/>
<path d="M470.00 313.33L472.70 308.34L467.30 308.34Z" fill="#0000c8" stroke="#00008a" stroke-width="0.5"/>
<path d="M475.30 314.33L478.00 309.34L472.60 309.34Z" fill="#0000c8" stroke="#00008a" stroke-width="0.5"/>
<path d="M480.00 309.63L482.70 304.64L477.30 304.64Z" fill="#0000c8" stroke="#00008a" stroke-width="0.5"/>
<path d="M481.30 313.73L484.00 308.74L478.60 308.74Z" fill="#0000c8" stroke="#00008a" stroke-width="0.5"/>
<path d="M488.00 313.33L490.70 308.34L485.30 308.34Z" fill="#0000c8" stroke="#00008a" stroke-width="0.5"/>
<path d="M496.10 313.03L498.80 308.04L493.40 308.04Z" fill="#0000c8" stroke="#00008a" stroke-width="0.5"/>
<path d="M506.20 310.33L508.90 305.34L503.50 305.34Z" fill="#0000c8" stroke="#00008a" stroke-width="0.5"/>
<circle cx="337.70" cy="338.20" r="2.35" fill="#d2101c" stroke="#7a0008" stroke-width="0.5"/>
<circle cx="338.50" cy="331.20" r="2.35" fill="#d2101c" stroke="#7a0008" stroke-width="0.5"/>
<circle cx="344.60" cy="322.30" r="2.35" fill="#d2101c" stroke="#7a0008" stroke-width="0.5"/>
<circle cx="343.70" cy="309.30" r="2.35" fill="#d2101c" stroke="#7a0008" stroke-width="0.5"/>
<circle cx="345.60" cy="312.70" r="2.35" fill="#d2101c" stroke="#7a0008" stroke-width="0.5"/>
<circle cx="353.80" cy="305.00" r="2.35" fill="#d2101c" stroke="#7a0008" stroke-width="0.5"/>
<circle cx="354.20" cy="308.80" r="2.35" fill="#d2101c" stroke="#7a0008" stroke-width="0.5"/>
<circle cx="368.70" cy="297.80" r="2.35" fill="#d2101c" stroke="#7a0008" stroke-width="0.5"/>
<circle cx="370.60" cy="301.10" r="2.35" fill="#d2101c" stroke="#7a0008" stroke-width="0.5"/>
<circle cx="373.00" cy="302.10" r="2.35" fill="#d2101c" stroke="#7a0008" stroke-width="0.5"/>
<circle cx="383.10" cy="298.30" r="2.35" fill="#d2101c" stroke="#7a0008" stroke-width="0.5"/>
<circle cx="387.40" cy="299.40" r="2.35" fill="#d2101c" stroke="#7a0008" stroke-width="0.5"/>
<circle cx="390.80" cy="300.80" r="2.35" fill="#d2101c" stroke="#7a0008" stroke-width="0.5"/>
<circle cx="393.50" cy="302.10" r="2.35" fill="#d2101c" stroke="#7a0008" stroke-width="0.5"/>
<circle cx="396.20" cy="303.50" r="2.35" fill="#d2101c" stroke="#7a0008" stroke-width="0.5"/>
<circle cx="399.50" cy="304.80" r="2.35" fill="#d2101c" stroke="#7a0008" stroke-width="0.5"/>
<circle cx="406.90" cy="306.20" r="2.35" fill="#d2101c" stroke="#7a0008" stroke-width="0.5"/>
<circle cx="410.30" cy="306.20" r="2.35" fill="#d2101c" stroke="#7a0008" stroke-width="0.5"/>
<circle cx="413.60" cy="306.80" r="2.35" fill="#d2101c" stroke="#7a0008" stroke-width="0.5"/>
<circle cx="417.00" cy="306.20" r="2.35" fill="#d2101c" stroke="#7a0008" stroke-width="0.5"/>
<circle cx="425.80" cy="300.80" r="2.35" fill="#d2101c" stroke="#7a0008" stroke-width="0.5"/>
<circle cx="431.80" cy="301.40" r="2.35" fill="#d2101c" stroke="#7a0008" stroke-width="0.5"/>
<circle cx="436.50" cy="303.50" r="2.35" fill="#d2101c" stroke="#7a0008" stroke-width="0.5"/>
<circle cx="439.20" cy="304.10" r="2.35" fill="#d2101c" stroke="#7a0008" stroke-width="0.5"/>
<circle cx="448.00" cy="306.80" r="2.35" fill="#d2101c" stroke="#7a0008" stroke-width="0.5"/>
<circle cx="455.80" cy="308.80" r="2.35" fill="#d2101c" stroke="#7a0008" stroke-width="0.5"/>
<circle cx="459.80" cy="310.90" r="2.35" fill="#d2101c" stroke="#7a0008" stroke-width="0.5"/>
<circle cx="472.60" cy="314.20" r="2.35" fill="#d2101c" stroke="#7a0008" stroke-width="0.5"/>
<circle cx="479.30" cy="315.60" r="2.35" fill="#d2101c" stroke="#7a0008" stroke-width="0.5"/>
<circle cx="488.10" cy="312.90" r="2.35" fill="#d2101c" stroke="#7a0008" stroke-width="0.5"/>
<circle cx="490.10" cy="308.80" r="2.35" fill="#d2101c" stroke="#7a0008" stroke-width="0.5"/>
<circle cx="506.90" cy="308.80" r="2.35" fill="#d2101c" stroke="#7a0008" stroke-width="0.5"/>
<circle cx="378.00" cy="300.00" r="2.35" fill="#d2101c" stroke="#7a0008" stroke-width="0.5"/>
<circle cx="403.00" cy="305.50" r="2.35" fill="#d2101c" stroke="#7a0008" stroke-width="0.5"/>
<circle cx="466.00" cy="310.50" r="2.35" fill="#d2101c" stroke="#7a0008" stroke-width="0.5"/>
<circle cx="498.00" cy="309.50" r="2.35" fill="#d2101c" stroke="#7a0008" stroke-width="0.5"/>
</g>
</svg>
</body></html>
